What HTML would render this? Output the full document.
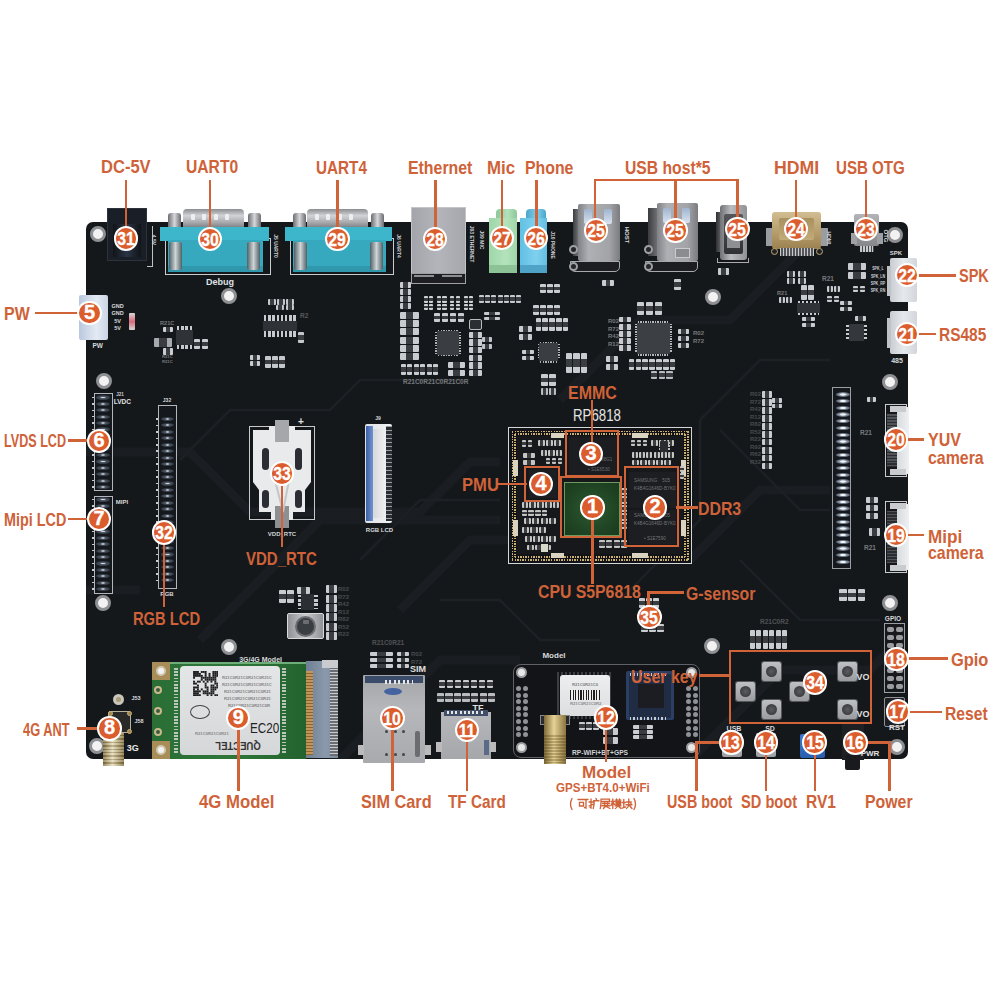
<!DOCTYPE html>
<html><head><meta charset="utf-8"><style>
html,body{margin:0;padding:0;background:#fff;width:1000px;height:1000px;overflow:hidden}
#root{position:relative;width:1000px;height:1000px;background:#fff;overflow:hidden}
#root div,#root span,#root svg{position:absolute}
.lb{font-family:"Liberation Sans",sans-serif;white-space:nowrap;line-height:1;letter-spacing:0}
.sm{font-family:"Liberation Sans",sans-serif;white-space:nowrap;line-height:1}
.ci{border:2px solid #fff;border-radius:50%;background:#db5c2d;box-sizing:border-box}
.ci span{position:absolute;left:50%;top:50%;transform:translate(-50%,-50%) scaleX(0.9);margin-top:1.6px;-webkit-text-stroke:0.35px #fff;color:#fff;font-family:"Liberation Sans",sans-serif;font-weight:bold;line-height:1;white-space:nowrap}
</style></head><body><div id="root">
<div style="left:86px;top:222px;width:822px;height:537px;border-radius:7px;background:#15181b"></div>
<svg style="position:absolute;left:0;top:0" width="1000" height="1000">
<defs><clipPath id="bc"><rect x="86" y="222" width="822" height="537" rx="7"/></clipPath></defs>
<g clip-path="url(#bc)" fill="none">
<g stroke="#1a1d21" stroke-width="9">
<path d="M86 452 L190 452 L250 512 L420 512 L470 462 L500 462"/>
<path d="M200 640 L320 520 L500 520"/>
<path d="M400 610 L470 540 L520 540"/>
<path d="M340 760 L440 660 L520 660"/>
<path d="M690 560 L760 490 L830 490"/>
<path d="M560 400 L640 320 L730 320 L800 250"/>
<path d="M690 760 L780 670 L870 670 L900 640"/>
<path d="M86 590 L140 590"/>
</g>
<g stroke="#1d2024" stroke-width="2.5">
<path d="M180 460 L230 410 L330 410 L360 380 L460 380"/>
<path d="M360 560 L420 500 L500 500"/>
<path d="M700 420 L760 360 L830 360"/>
<path d="M620 600 L700 520 L700 420"/>
<path d="M440 600 L500 600 L540 640 L600 640"/>
<path d="M740 560 L800 620 L880 620"/>
<path d="M720 430 L800 510 L830 510"/>
</g>

</g></svg>
<div style="left:90.0px;top:226.0px;width:16px;height:16px;border-radius:50%;border:3px solid #8e9094;background:#f2f2f2;box-sizing:border-box"></div>
<div style="left:220.5px;top:288.0px;width:16px;height:16px;border-radius:50%;border:3px solid #8e9094;background:#f2f2f2;box-sizing:border-box"></div>
<div style="left:96.2px;top:372.5px;width:16px;height:16px;border-radius:50%;border:3px solid #8e9094;background:#f2f2f2;box-sizing:border-box"></div>
<div style="left:94.5px;top:594.5px;width:16px;height:16px;border-radius:50%;border:3px solid #8e9094;background:#f2f2f2;box-sizing:border-box"></div>
<div style="left:89.0px;top:738.0px;width:16px;height:16px;border-radius:50%;border:3px solid #8e9094;background:#f2f2f2;box-sizing:border-box"></div>
<div style="left:704.6px;top:288.8px;width:16px;height:16px;border-radius:50%;border:3px solid #8e9094;background:#f2f2f2;box-sizing:border-box"></div>
<div style="left:882.0px;top:374.0px;width:16px;height:16px;border-radius:50%;border:3px solid #8e9094;background:#f2f2f2;box-sizing:border-box"></div>
<div style="left:887.0px;top:226.5px;width:16px;height:16px;border-radius:50%;border:3px solid #8e9094;background:#f2f2f2;box-sizing:border-box"></div>
<div style="left:703.5px;top:638.0px;width:16px;height:16px;border-radius:50%;border:3px solid #8e9094;background:#f2f2f2;box-sizing:border-box"></div>
<div style="left:882.0px;top:595.0px;width:16px;height:16px;border-radius:50%;border:3px solid #8e9094;background:#f2f2f2;box-sizing:border-box"></div>
<div style="left:889.0px;top:739.0px;width:16px;height:16px;border-radius:50%;border:3px solid #8e9094;background:#f2f2f2;box-sizing:border-box"></div>
<div style="left:221.4px;top:639.0px;width:16px;height:16px;border-radius:50%;border:3px solid #8e9094;background:#f2f2f2;box-sizing:border-box"></div>
<div style="left:107.0px;top:208.0px;width:40.0px;height:53.0px;background:#1a1f27;border:1px solid #2c333c;box-sizing:border-box;"></div>
<div style="left:113.0px;top:224.0px;width:28.0px;height:33.0px;background:linear-gradient(90deg,#111418,#2a3444 50%,#111418);"></div>
<div style="left:147px;top:226px;width:5px;height:40px;border-right:1px solid #bfc3c7;border-bottom:1px solid #bfc3c7"></div>
<span class="sm" style="left:153px;top:240px;font-size:5px;color:#cfd2d6;font-weight:bold;transform:translate(-50%,-50%) rotate(90deg) scaleX(1)">4.5V</span>
<div style="left:183.0px;top:209.0px;width:61.0px;height:19.0px;background:linear-gradient(#8c8d91,#d2d3d6 35%,#a9aaae 70%,#7b7c80);border-radius:4px 4px 0 0;"></div>
<div style="left:191.0px;top:214.0px;width:4.0px;height:6.0px;background:#eceef0;border-radius:1px;"></div>
<div style="left:202.2px;top:214.0px;width:4.0px;height:6.0px;background:#eceef0;border-radius:1px;"></div>
<div style="left:213.5px;top:214.0px;width:4.0px;height:6.0px;background:#eceef0;border-radius:1px;"></div>
<div style="left:224.8px;top:214.0px;width:4.0px;height:6.0px;background:#eceef0;border-radius:1px;"></div>
<div style="left:168.0px;top:213.0px;width:13.0px;height:15.0px;background:linear-gradient(90deg,#6a6c70,#d5d6d9 50%,#6a6c70);border-radius:3px 3px 0 0;"></div>
<div style="left:248.0px;top:213.0px;width:13.0px;height:15.0px;background:linear-gradient(90deg,#6a6c70,#d5d6d9 50%,#6a6c70);border-radius:3px 3px 0 0;"></div>
<div style="left:165px;top:238px;width:106px;height:37px;border:1px solid #c8cccf;box-sizing:border-box"></div>
<div style="left:160.0px;top:227.0px;width:109.0px;height:14.0px;background:#3db5cb;"></div>
<div style="left:168.0px;top:240.0px;width:95.0px;height:32.0px;background:#37a9bf;"></div>
<div style="left:168.0px;top:266.0px;width:95.0px;height:6.0px;background:#2f98ad;"></div>
<div style="left:169.0px;top:242.0px;width:13.0px;height:28.0px;background:linear-gradient(90deg,#4e6066,#cfd4d6 50%,#4e6066);border-radius:2px;"></div>
<div style="left:247.0px;top:242.0px;width:13.0px;height:28.0px;background:linear-gradient(90deg,#4e6066,#cfd4d6 50%,#4e6066);border-radius:2px;"></div>
<span class="sm" style="left:275px;top:246px;font-size:5px;color:#cfd2d6;font-weight:bold;transform:translate(-50%,-50%) rotate(90deg) scaleX(1)">J5 UART0</span>
<div style="left:307.0px;top:209.0px;width:61.0px;height:19.0px;background:linear-gradient(#8c8d91,#d2d3d6 35%,#a9aaae 70%,#7b7c80);border-radius:4px 4px 0 0;"></div>
<div style="left:315.0px;top:214.0px;width:4.0px;height:6.0px;background:#eceef0;border-radius:1px;"></div>
<div style="left:326.2px;top:214.0px;width:4.0px;height:6.0px;background:#eceef0;border-radius:1px;"></div>
<div style="left:337.5px;top:214.0px;width:4.0px;height:6.0px;background:#eceef0;border-radius:1px;"></div>
<div style="left:348.8px;top:214.0px;width:4.0px;height:6.0px;background:#eceef0;border-radius:1px;"></div>
<div style="left:293.0px;top:213.0px;width:13.0px;height:15.0px;background:linear-gradient(90deg,#6a6c70,#d5d6d9 50%,#6a6c70);border-radius:3px 3px 0 0;"></div>
<div style="left:371.0px;top:213.0px;width:13.0px;height:15.0px;background:linear-gradient(90deg,#6a6c70,#d5d6d9 50%,#6a6c70);border-radius:3px 3px 0 0;"></div>
<div style="left:290px;top:238px;width:104px;height:37px;border:1px solid #c8cccf;box-sizing:border-box"></div>
<div style="left:285.0px;top:227.0px;width:107.0px;height:14.0px;background:#3db5cb;"></div>
<div style="left:293.0px;top:240.0px;width:93.0px;height:32.0px;background:#37a9bf;"></div>
<div style="left:293.0px;top:266.0px;width:93.0px;height:6.0px;background:#2f98ad;"></div>
<div style="left:294.0px;top:242.0px;width:13.0px;height:28.0px;background:linear-gradient(90deg,#4e6066,#cfd4d6 50%,#4e6066);border-radius:2px;"></div>
<div style="left:370.0px;top:242.0px;width:13.0px;height:28.0px;background:linear-gradient(90deg,#4e6066,#cfd4d6 50%,#4e6066);border-radius:2px;"></div>
<span class="sm" style="left:398px;top:246px;font-size:5px;color:#cfd2d6;font-weight:bold;transform:translate(-50%,-50%) rotate(90deg) scaleX(1)">J6 UART4</span>
<span class="sm" style="left:220px;top:282px;font-size:9.5px;color:#dfe3e6;font-weight:bold;transform:translate(-50%,-50%) rotate(0deg) scaleX(0.95)">Debug</span>
<div style="left:411.2px;top:207.0px;width:54.4px;height:67.0px;background:linear-gradient(90deg,#a3a5aa,#b3b5ba 50%,#a5a7ac);border:1px solid #c3c5c8;box-sizing:border-box;"></div>
<div style="left:411.2px;top:273.0px;width:54.4px;height:10.5px;background:#1d1f23;border:1px solid #9fa1a5;box-sizing:border-box;"></div>
<div style="left:414.0px;top:274.5px;width:20.0px;height:2.5px;background:#8d8f93;"></div>
<div style="left:442.0px;top:274.5px;width:20.0px;height:2.5px;background:#8d8f93;"></div>
<span class="sm" style="left:471px;top:244px;font-size:5px;color:#cfd2d6;font-weight:bold;transform:translate(-50%,-50%) rotate(90deg) scaleX(1)">J03 ETHERNET</span>
<div style="left:496.0px;top:208.6px;width:20.5px;height:10.4px;background:linear-gradient(90deg,#8cc79a,#b2e2bb 55%,#8cc79a);border-radius:4px 4px 0 0;"></div>
<div style="left:488.8px;top:218.2px;width:28.0px;height:55.2px;background:linear-gradient(90deg,#9fd6a9,#b3e3bb 60%,#a0d5a9);"></div>
<div style="left:488.8px;top:265.0px;width:28.0px;height:8.4px;background:#8dc196;"></div>
<div style="left:526.4px;top:208.6px;width:20.1px;height:10.4px;background:linear-gradient(90deg,#4aa6cc,#7fcdea 55%,#4aa6cc);border-radius:4px 4px 0 0;"></div>
<div style="left:520.0px;top:218.2px;width:27.2px;height:55.2px;background:linear-gradient(90deg,#62c0e4,#7fd0ee 60%,#62bfe2);"></div>
<div style="left:520.0px;top:265.0px;width:27.2px;height:8.4px;background:#4fa3c6;"></div>
<span class="sm" style="left:481px;top:240px;font-size:5px;color:#cfd2d6;font-weight:bold;transform:translate(-50%,-50%) rotate(90deg) scaleX(1)">J09 MIC</span>
<span class="sm" style="left:552px;top:245px;font-size:5px;color:#cfd2d6;font-weight:bold;transform:translate(-50%,-50%) rotate(90deg) scaleX(1)">J10 PHONE</span>
<div style="left:573.0px;top:209.0px;width:5.0px;height:47.0px;background:linear-gradient(90deg,#3a3c40,#6d6f73);"></div>
<div style="left:578.0px;top:204.0px;width:42.0px;height:57.0px;background:linear-gradient(90deg,#7f8186,#aeb0b4 25%,#a1a3a7 75%,#7a7c80);border-radius:2px;"></div>
<div style="left:584.0px;top:209.0px;width:8.0px;height:15.0px;background:linear-gradient(#a0b4d0,#d9e2ee);border-radius:2px;"></div>
<div style="left:604.0px;top:209.0px;width:8.0px;height:15.0px;background:linear-gradient(#a0b4d0,#d9e2ee);border-radius:2px;"></div>
<div style="left:570.0px;top:261.0px;width:50.0px;height:11.0px;background:#1c1e22;border:1.5px solid #a6a8ab;box-sizing:border-box;border-radius:0 0 5px 5px;"></div>
<div style="left:568.5px;top:244.5px;width:9px;height:9px;border-radius:50%;border:2px solid #9ea0a3;background:#25272b;box-sizing:border-box"></div>
<div style="left:568.5px;top:261.5px;width:9px;height:9px;border-radius:50%;border:2px solid #9ea0a3;background:#25272b;box-sizing:border-box"></div>
<div style="left:648.0px;top:208.0px;width:9.0px;height:48.0px;background:linear-gradient(90deg,#3a3c40,#6d6f73);"></div>
<div style="left:657.0px;top:203.0px;width:41.0px;height:58.0px;background:linear-gradient(90deg,#7f8186,#aeb0b4 25%,#a1a3a7 75%,#7a7c80);border-radius:2px;"></div>
<div style="left:663.0px;top:208.0px;width:8.0px;height:15.0px;background:linear-gradient(#a0b4d0,#d9e2ee);border-radius:2px;"></div>
<div style="left:682.0px;top:208.0px;width:8.0px;height:15.0px;background:linear-gradient(#a0b4d0,#d9e2ee);border-radius:2px;"></div>
<div style="left:645.0px;top:261.0px;width:53.0px;height:11.0px;background:#1c1e22;border:1.5px solid #a6a8ab;box-sizing:border-box;border-radius:0 0 5px 5px;"></div>
<div style="left:643.5px;top:244.5px;width:9px;height:9px;border-radius:50%;border:2px solid #9ea0a3;background:#25272b;box-sizing:border-box"></div>
<div style="left:643.5px;top:261.5px;width:9px;height:9px;border-radius:50%;border:2px solid #9ea0a3;background:#25272b;box-sizing:border-box"></div>
<div style="left:675.0px;top:248.0px;width:15.0px;height:10.0px;background:#8a8c90;border:1px solid #c9cbcf;box-sizing:border-box;"></div>
<div style="left:716.0px;top:212.0px;width:6.0px;height:40.0px;background:linear-gradient(90deg,#2e3034,#6a6c70);"></div>
<div style="left:720.0px;top:205.0px;width:27.0px;height:55.0px;background:linear-gradient(90deg,#6f7175,#b9bbbf 40%,#8f9195);border-radius:3px;"></div>
<div style="left:724.0px;top:214.0px;width:19.0px;height:40.0px;background:linear-gradient(#55575b,#2f3135);border-radius:2px;"></div>
<div style="left:727.0px;top:232.0px;width:13.0px;height:16.0px;background:#8d8f93;"></div>
<div style="left:717px;top:258px;width:30px;height:4px;border:1px solid #a9abae;border-top:none"></div>
<span class="sm" style="left:627px;top:235px;font-size:6px;color:#d8dadd;font-weight:bold;transform:translate(-50%,-50%) rotate(90deg) scaleX(1)">HOST</span>
<div style="left:766.0px;top:228.0px;width:7.0px;height:18.0px;background:#9a9c9f;"></div>
<div style="left:821.0px;top:228.0px;width:7.0px;height:18.0px;background:#9a9c9f;"></div>
<div style="left:772.0px;top:212.0px;width:49.0px;height:37.0px;background:linear-gradient(#d1bd92,#b39a68 60%,#9b8150);border-radius:3px;"></div>
<div style="left:779.0px;top:218.0px;width:35.0px;height:22.0px;background:linear-gradient(#a8915f,#c2ab7a);border-radius:2px;"></div>
<div style="left:780.0px;top:248.0px;width:34.0px;height:8.0px;background:repeating-linear-gradient(90deg,#c8cacc 0 1.5px,#55575b 1.5px 3px);"></div>
<div style="left:770.5px;top:247.5px;width:7px;height:7px;border-radius:50%;border:1.5px solid #bfa97a;background:#222;box-sizing:border-box"></div>
<div style="left:815.5px;top:247.5px;width:7px;height:7px;border-radius:50%;border:1.5px solid #bfa97a;background:#222;box-sizing:border-box"></div>
<span class="sm" style="left:828px;top:238px;font-size:5px;color:#cfd2d6;font-weight:bold;transform:translate(-50%,-50%) rotate(90deg) scaleX(1)">HDMI</span>
<div style="left:854.0px;top:214.0px;width:25.0px;height:32.0px;background:linear-gradient(#b2b4b8,#85878b);border-radius:2px;"></div>
<div style="left:851.0px;top:233.0px;width:6.0px;height:11.0px;background:#9ea0a4;"></div>
<div style="left:877.0px;top:233.0px;width:6.0px;height:11.0px;background:#9ea0a4;"></div>
<div style="left:860.0px;top:246.0px;width:14.0px;height:6.0px;background:repeating-linear-gradient(90deg,#c8cacc 0 1.5px,#45474b 1.5px 3px);"></div>
<span class="sm" style="left:886px;top:236px;font-size:6px;color:#d8dadd;font-weight:bold;transform:translate(-50%,-50%) rotate(90deg) scaleX(1)">OTG</span>
<div style="left:890.0px;top:258.0px;width:27.0px;height:44.0px;background:linear-gradient(90deg,#c9cdd2,#e6e9ec 50%,#d2d6da);border-radius:2px;"></div>
<div style="left:887.0px;top:266.0px;width:4.0px;height:30.0px;background:#bfc3c7;"></div>
<div style="left:890.0px;top:311.0px;width:27.0px;height:43.0px;background:linear-gradient(90deg,#c9cdd2,#e6e9ec 50%,#d2d6da);border-radius:2px;"></div>
<div style="left:887.0px;top:318.0px;width:4.0px;height:30.0px;background:#bfc3c7;"></div>
<span class="sm" style="left:896px;top:253px;font-size:6px;color:#d8dadd;font-weight:bold;transform:translate(-50%,-50%) rotate(0deg) scaleX(1.0)">SPK</span>
<span class="sm" style="left:897px;top:360px;font-size:7px;color:#d8dadd;font-weight:bold;transform:translate(-50%,-50%) rotate(0deg) scaleX(1.0)">485</span>
<span class="sm" style="left:878px;top:269px;font-size:4.5px;color:#cfd2d6;font-weight:bold;transform:translate(-50%,-50%) rotate(0deg) scaleX(0.8)">SPK_L</span>
<span class="sm" style="left:878px;top:277px;font-size:4.5px;color:#cfd2d6;font-weight:bold;transform:translate(-50%,-50%) rotate(0deg) scaleX(0.8)">SPK_LN</span>
<span class="sm" style="left:878px;top:284px;font-size:4.5px;color:#cfd2d6;font-weight:bold;transform:translate(-50%,-50%) rotate(0deg) scaleX(0.8)">SPK_RP</span>
<span class="sm" style="left:878px;top:291px;font-size:4.5px;color:#cfd2d6;font-weight:bold;transform:translate(-50%,-50%) rotate(0deg) scaleX(0.8)">SPK_RN</span>
<div style="left:884.8px;top:404.0px;width:22.2px;height:72.5px;background:#15171b;border:1px solid #c8cacd;box-sizing:border-box;"></div>
<div style="left:887.0px;top:414.0px;width:10.0px;height:52.5px;background:repeating-linear-gradient(#505357 0 1.5px,#2a2c30 1.5px 3px);"></div>
<div style="left:897.4px;top:407.0px;width:11.6px;height:66.5px;background:linear-gradient(90deg,#d8dbde,#eef0f2);"></div>
<div style="left:890.0px;top:406.0px;width:16.0px;height:6.0px;background:#c9cbce;"></div>
<div style="left:890.0px;top:468.5px;width:16.0px;height:6.0px;background:#c9cbce;"></div>
<div style="left:884.8px;top:501.0px;width:22.2px;height:71.5px;background:#15171b;border:1px solid #c8cacd;box-sizing:border-box;"></div>
<div style="left:887.0px;top:511.0px;width:10.0px;height:51.5px;background:repeating-linear-gradient(#505357 0 1.5px,#2a2c30 1.5px 3px);"></div>
<div style="left:897.4px;top:504.0px;width:11.6px;height:65.5px;background:linear-gradient(90deg,#d8dbde,#eef0f2);"></div>
<div style="left:890.0px;top:503.0px;width:16.0px;height:6.0px;background:#c9cbce;"></div>
<div style="left:890.0px;top:564.5px;width:16.0px;height:6.0px;background:#c9cbce;"></div>
<div style="left:883.7px;top:623.0px;width:21.0px;height:69.5px;background:#17191d;border:1px solid #9a9da1;box-sizing:border-box;"></div>
<div style="left:886.5px;top:627.0px;width:7.5px;height:4.5px;background:#9a9ca0;border-radius:2px;"></div>
<div style="left:895.5px;top:627.0px;width:7.5px;height:4.5px;background:#9a9ca0;border-radius:2px;"></div>
<div style="left:886.5px;top:635.2px;width:7.5px;height:4.5px;background:#9a9ca0;border-radius:2px;"></div>
<div style="left:895.5px;top:635.2px;width:7.5px;height:4.5px;background:#9a9ca0;border-radius:2px;"></div>
<div style="left:886.5px;top:643.4px;width:7.5px;height:4.5px;background:#9a9ca0;border-radius:2px;"></div>
<div style="left:895.5px;top:643.4px;width:7.5px;height:4.5px;background:#9a9ca0;border-radius:2px;"></div>
<div style="left:886.5px;top:651.6px;width:7.5px;height:4.5px;background:#9a9ca0;border-radius:2px;"></div>
<div style="left:895.5px;top:651.6px;width:7.5px;height:4.5px;background:#9a9ca0;border-radius:2px;"></div>
<div style="left:886.5px;top:659.8px;width:7.5px;height:4.5px;background:#9a9ca0;border-radius:2px;"></div>
<div style="left:895.5px;top:659.8px;width:7.5px;height:4.5px;background:#9a9ca0;border-radius:2px;"></div>
<div style="left:886.5px;top:668.0px;width:7.5px;height:4.5px;background:#9a9ca0;border-radius:2px;"></div>
<div style="left:895.5px;top:668.0px;width:7.5px;height:4.5px;background:#9a9ca0;border-radius:2px;"></div>
<div style="left:886.5px;top:676.2px;width:7.5px;height:4.5px;background:#9a9ca0;border-radius:2px;"></div>
<div style="left:895.5px;top:676.2px;width:7.5px;height:4.5px;background:#9a9ca0;border-radius:2px;"></div>
<div style="left:886.5px;top:684.4px;width:7.5px;height:4.5px;background:#9a9ca0;border-radius:2px;"></div>
<div style="left:895.5px;top:684.4px;width:7.5px;height:4.5px;background:#9a9ca0;border-radius:2px;"></div>
<span class="sm" style="left:893px;top:618.7px;font-size:6.5px;color:#d8dadd;font-weight:bold;transform:translate(-50%,-50%) rotate(0deg) scaleX(1.0)">GPIO</span>
<div style="left:884.0px;top:697.0px;width:21.0px;height:30.0px;background:#1d1f23;border:1px solid #8c8f93;box-sizing:border-box;border-radius:2px;"></div>
<span class="sm" style="left:897px;top:728px;font-size:8px;color:#e0e0e0;font-weight:bold;transform:translate(-50%,-50%) rotate(0deg) scaleX(1.0)">RST</span>
<div style="left:79.0px;top:295.0px;width:29.0px;height:45.0px;background:linear-gradient(90deg,#b9c8de,#e4eaf3 60%,#c9d4e4);border-radius:2px;"></div>
<span class="sm" style="left:117.5px;top:306.5px;font-size:5.5px;color:#d8dadd;font-weight:bold;transform:translate(-50%,-50%) rotate(0deg) scaleX(1.0)">GND</span>
<span class="sm" style="left:117.5px;top:314px;font-size:5.5px;color:#d8dadd;font-weight:bold;transform:translate(-50%,-50%) rotate(0deg) scaleX(1.0)">GND</span>
<span class="sm" style="left:117.5px;top:321.5px;font-size:5.5px;color:#d8dadd;font-weight:bold;transform:translate(-50%,-50%) rotate(0deg) scaleX(1.0)">5V</span>
<span class="sm" style="left:117.5px;top:329px;font-size:5.5px;color:#d8dadd;font-weight:bold;transform:translate(-50%,-50%) rotate(0deg) scaleX(1.0)">5V</span>
<div style="left:129.0px;top:313.0px;width:6.4px;height:17.0px;background:linear-gradient(#d8d8d8,#d86a7a 50%,#d8d8d8);border-radius:1px;"></div>
<span class="sm" style="left:97.7px;top:346px;font-size:6.5px;color:#d8dadd;font-weight:bold;transform:translate(-50%,-50%) rotate(0deg) scaleX(1.0)">PW</span>
<div style="left:93.5px;top:393.0px;width:19.5px;height:98.0px;background:#15181c;border:1px solid #b3b6ba;box-sizing:border-box;"></div>
<div style="left:96.0px;top:395.4px;width:14.0px;height:4.2px;border-radius:50%;background:radial-gradient(ellipse at 50% 50%,#d8dadc 0 14%,#4f5967 28%,#283039 75%)"></div>
<div style="left:92.0px;top:396.7px;width:1.6px;height:1.6px;background:#c8cacd;"></div>
<div style="left:96.0px;top:401.8px;width:14.0px;height:4.2px;border-radius:50%;background:radial-gradient(ellipse at 50% 50%,#d8dadc 0 14%,#4f5967 28%,#283039 75%)"></div>
<div style="left:92.0px;top:403.1px;width:1.6px;height:1.6px;background:#c8cacd;"></div>
<div style="left:96.0px;top:408.2px;width:14.0px;height:4.2px;border-radius:50%;background:radial-gradient(ellipse at 50% 50%,#d8dadc 0 14%,#4f5967 28%,#283039 75%)"></div>
<div style="left:92.0px;top:409.5px;width:1.6px;height:1.6px;background:#c8cacd;"></div>
<div style="left:96.0px;top:414.6px;width:14.0px;height:4.2px;border-radius:50%;background:radial-gradient(ellipse at 50% 50%,#d8dadc 0 14%,#4f5967 28%,#283039 75%)"></div>
<div style="left:92.0px;top:415.9px;width:1.6px;height:1.6px;background:#c8cacd;"></div>
<div style="left:96.0px;top:421.0px;width:14.0px;height:4.2px;border-radius:50%;background:radial-gradient(ellipse at 50% 50%,#d8dadc 0 14%,#4f5967 28%,#283039 75%)"></div>
<div style="left:92.0px;top:422.3px;width:1.6px;height:1.6px;background:#c8cacd;"></div>
<div style="left:96.0px;top:427.4px;width:14.0px;height:4.2px;border-radius:50%;background:radial-gradient(ellipse at 50% 50%,#d8dadc 0 14%,#4f5967 28%,#283039 75%)"></div>
<div style="left:92.0px;top:428.7px;width:1.6px;height:1.6px;background:#c8cacd;"></div>
<div style="left:96.0px;top:433.8px;width:14.0px;height:4.2px;border-radius:50%;background:radial-gradient(ellipse at 50% 50%,#d8dadc 0 14%,#4f5967 28%,#283039 75%)"></div>
<div style="left:92.0px;top:435.1px;width:1.6px;height:1.6px;background:#c8cacd;"></div>
<div style="left:96.0px;top:440.2px;width:14.0px;height:4.2px;border-radius:50%;background:radial-gradient(ellipse at 50% 50%,#d8dadc 0 14%,#4f5967 28%,#283039 75%)"></div>
<div style="left:92.0px;top:441.5px;width:1.6px;height:1.6px;background:#c8cacd;"></div>
<div style="left:96.0px;top:446.6px;width:14.0px;height:4.2px;border-radius:50%;background:radial-gradient(ellipse at 50% 50%,#d8dadc 0 14%,#4f5967 28%,#283039 75%)"></div>
<div style="left:92.0px;top:447.9px;width:1.6px;height:1.6px;background:#c8cacd;"></div>
<div style="left:96.0px;top:453.0px;width:14.0px;height:4.2px;border-radius:50%;background:radial-gradient(ellipse at 50% 50%,#d8dadc 0 14%,#4f5967 28%,#283039 75%)"></div>
<div style="left:92.0px;top:454.3px;width:1.6px;height:1.6px;background:#c8cacd;"></div>
<div style="left:96.0px;top:459.4px;width:14.0px;height:4.2px;border-radius:50%;background:radial-gradient(ellipse at 50% 50%,#d8dadc 0 14%,#4f5967 28%,#283039 75%)"></div>
<div style="left:92.0px;top:460.7px;width:1.6px;height:1.6px;background:#c8cacd;"></div>
<div style="left:96.0px;top:465.8px;width:14.0px;height:4.2px;border-radius:50%;background:radial-gradient(ellipse at 50% 50%,#d8dadc 0 14%,#4f5967 28%,#283039 75%)"></div>
<div style="left:92.0px;top:467.1px;width:1.6px;height:1.6px;background:#c8cacd;"></div>
<div style="left:96.0px;top:472.2px;width:14.0px;height:4.2px;border-radius:50%;background:radial-gradient(ellipse at 50% 50%,#d8dadc 0 14%,#4f5967 28%,#283039 75%)"></div>
<div style="left:92.0px;top:473.5px;width:1.6px;height:1.6px;background:#c8cacd;"></div>
<div style="left:96.0px;top:478.6px;width:14.0px;height:4.2px;border-radius:50%;background:radial-gradient(ellipse at 50% 50%,#d8dadc 0 14%,#4f5967 28%,#283039 75%)"></div>
<div style="left:92.0px;top:479.9px;width:1.6px;height:1.6px;background:#c8cacd;"></div>
<div style="left:96.0px;top:485.0px;width:14.0px;height:4.2px;border-radius:50%;background:radial-gradient(ellipse at 50% 50%,#d8dadc 0 14%,#4f5967 28%,#283039 75%)"></div>
<div style="left:92.0px;top:486.3px;width:1.6px;height:1.6px;background:#c8cacd;"></div>
<div style="left:93.5px;top:495.6px;width:19.5px;height:98.4px;background:#15181c;border:1px solid #b3b6ba;box-sizing:border-box;"></div>
<div style="left:96.0px;top:497.4px;width:14.0px;height:4.2px;border-radius:50%;background:radial-gradient(ellipse at 50% 50%,#d8dadc 0 14%,#4f5967 28%,#283039 75%)"></div>
<div style="left:92.0px;top:498.7px;width:1.6px;height:1.6px;background:#c8cacd;"></div>
<div style="left:96.0px;top:503.8px;width:14.0px;height:4.2px;border-radius:50%;background:radial-gradient(ellipse at 50% 50%,#d8dadc 0 14%,#4f5967 28%,#283039 75%)"></div>
<div style="left:92.0px;top:505.1px;width:1.6px;height:1.6px;background:#c8cacd;"></div>
<div style="left:96.0px;top:510.2px;width:14.0px;height:4.2px;border-radius:50%;background:radial-gradient(ellipse at 50% 50%,#d8dadc 0 14%,#4f5967 28%,#283039 75%)"></div>
<div style="left:92.0px;top:511.5px;width:1.6px;height:1.6px;background:#c8cacd;"></div>
<div style="left:96.0px;top:516.6px;width:14.0px;height:4.2px;border-radius:50%;background:radial-gradient(ellipse at 50% 50%,#d8dadc 0 14%,#4f5967 28%,#283039 75%)"></div>
<div style="left:92.0px;top:517.9px;width:1.6px;height:1.6px;background:#c8cacd;"></div>
<div style="left:96.0px;top:523.0px;width:14.0px;height:4.2px;border-radius:50%;background:radial-gradient(ellipse at 50% 50%,#d8dadc 0 14%,#4f5967 28%,#283039 75%)"></div>
<div style="left:92.0px;top:524.3px;width:1.6px;height:1.6px;background:#c8cacd;"></div>
<div style="left:96.0px;top:529.4px;width:14.0px;height:4.2px;border-radius:50%;background:radial-gradient(ellipse at 50% 50%,#d8dadc 0 14%,#4f5967 28%,#283039 75%)"></div>
<div style="left:92.0px;top:530.7px;width:1.6px;height:1.6px;background:#c8cacd;"></div>
<div style="left:96.0px;top:535.8px;width:14.0px;height:4.2px;border-radius:50%;background:radial-gradient(ellipse at 50% 50%,#d8dadc 0 14%,#4f5967 28%,#283039 75%)"></div>
<div style="left:92.0px;top:537.1px;width:1.6px;height:1.6px;background:#c8cacd;"></div>
<div style="left:96.0px;top:542.2px;width:14.0px;height:4.2px;border-radius:50%;background:radial-gradient(ellipse at 50% 50%,#d8dadc 0 14%,#4f5967 28%,#283039 75%)"></div>
<div style="left:92.0px;top:543.5px;width:1.6px;height:1.6px;background:#c8cacd;"></div>
<div style="left:96.0px;top:548.6px;width:14.0px;height:4.2px;border-radius:50%;background:radial-gradient(ellipse at 50% 50%,#d8dadc 0 14%,#4f5967 28%,#283039 75%)"></div>
<div style="left:92.0px;top:549.9px;width:1.6px;height:1.6px;background:#c8cacd;"></div>
<div style="left:96.0px;top:555.0px;width:14.0px;height:4.2px;border-radius:50%;background:radial-gradient(ellipse at 50% 50%,#d8dadc 0 14%,#4f5967 28%,#283039 75%)"></div>
<div style="left:92.0px;top:556.3px;width:1.6px;height:1.6px;background:#c8cacd;"></div>
<div style="left:96.0px;top:561.4px;width:14.0px;height:4.2px;border-radius:50%;background:radial-gradient(ellipse at 50% 50%,#d8dadc 0 14%,#4f5967 28%,#283039 75%)"></div>
<div style="left:92.0px;top:562.7px;width:1.6px;height:1.6px;background:#c8cacd;"></div>
<div style="left:96.0px;top:567.8px;width:14.0px;height:4.2px;border-radius:50%;background:radial-gradient(ellipse at 50% 50%,#d8dadc 0 14%,#4f5967 28%,#283039 75%)"></div>
<div style="left:92.0px;top:569.1px;width:1.6px;height:1.6px;background:#c8cacd;"></div>
<div style="left:96.0px;top:574.2px;width:14.0px;height:4.2px;border-radius:50%;background:radial-gradient(ellipse at 50% 50%,#d8dadc 0 14%,#4f5967 28%,#283039 75%)"></div>
<div style="left:92.0px;top:575.5px;width:1.6px;height:1.6px;background:#c8cacd;"></div>
<div style="left:96.0px;top:580.6px;width:14.0px;height:4.2px;border-radius:50%;background:radial-gradient(ellipse at 50% 50%,#d8dadc 0 14%,#4f5967 28%,#283039 75%)"></div>
<div style="left:92.0px;top:581.9px;width:1.6px;height:1.6px;background:#c8cacd;"></div>
<div style="left:96.0px;top:587.0px;width:14.0px;height:4.2px;border-radius:50%;background:radial-gradient(ellipse at 50% 50%,#d8dadc 0 14%,#4f5967 28%,#283039 75%)"></div>
<div style="left:92.0px;top:588.3px;width:1.6px;height:1.6px;background:#c8cacd;"></div>
<span class="sm" style="left:122.3px;top:401.8px;font-size:6.5px;color:#e0e2e4;font-weight:bold;transform:translate(-50%,-50%) rotate(0deg) scaleX(1.0)">LVDC</span>
<span class="sm" style="left:120px;top:395px;font-size:4.5px;color:#d0d2d5;font-weight:bold;transform:translate(-50%,-50%) rotate(0deg) scaleX(1.0)">J21</span>
<span class="sm" style="left:122px;top:502px;font-size:6px;color:#d8dadd;font-weight:bold;transform:translate(-50%,-50%) rotate(0deg) scaleX(1.0)">MIPI</span>
<div style="left:157.5px;top:405.4px;width:19.5px;height:183.6px;background:#15181c;border:1px solid #b3b6ba;box-sizing:border-box;"></div>
<div style="left:160.5px;top:416.9px;width:13.5px;height:4.2px;border-radius:50%;background:radial-gradient(ellipse at 50% 50%,#d8dadc 0 14%,#4f5967 28%,#283039 75%)"></div>
<div style="left:156.0px;top:418.2px;width:1.6px;height:1.6px;background:#c8cacd;"></div>
<div style="left:160.5px;top:423.3px;width:13.5px;height:4.2px;border-radius:50%;background:radial-gradient(ellipse at 50% 50%,#d8dadc 0 14%,#4f5967 28%,#283039 75%)"></div>
<div style="left:156.0px;top:424.6px;width:1.6px;height:1.6px;background:#c8cacd;"></div>
<div style="left:160.5px;top:429.8px;width:13.5px;height:4.2px;border-radius:50%;background:radial-gradient(ellipse at 50% 50%,#d8dadc 0 14%,#4f5967 28%,#283039 75%)"></div>
<div style="left:156.0px;top:431.1px;width:1.6px;height:1.6px;background:#c8cacd;"></div>
<div style="left:160.5px;top:436.2px;width:13.5px;height:4.2px;border-radius:50%;background:radial-gradient(ellipse at 50% 50%,#d8dadc 0 14%,#4f5967 28%,#283039 75%)"></div>
<div style="left:156.0px;top:437.6px;width:1.6px;height:1.6px;background:#c8cacd;"></div>
<div style="left:160.5px;top:442.7px;width:13.5px;height:4.2px;border-radius:50%;background:radial-gradient(ellipse at 50% 50%,#d8dadc 0 14%,#4f5967 28%,#283039 75%)"></div>
<div style="left:156.0px;top:444.0px;width:1.6px;height:1.6px;background:#c8cacd;"></div>
<div style="left:160.5px;top:449.1px;width:13.5px;height:4.2px;border-radius:50%;background:radial-gradient(ellipse at 50% 50%,#d8dadc 0 14%,#4f5967 28%,#283039 75%)"></div>
<div style="left:156.0px;top:450.4px;width:1.6px;height:1.6px;background:#c8cacd;"></div>
<div style="left:160.5px;top:455.6px;width:13.5px;height:4.2px;border-radius:50%;background:radial-gradient(ellipse at 50% 50%,#d8dadc 0 14%,#4f5967 28%,#283039 75%)"></div>
<div style="left:156.0px;top:456.9px;width:1.6px;height:1.6px;background:#c8cacd;"></div>
<div style="left:160.5px;top:462.0px;width:13.5px;height:4.2px;border-radius:50%;background:radial-gradient(ellipse at 50% 50%,#d8dadc 0 14%,#4f5967 28%,#283039 75%)"></div>
<div style="left:156.0px;top:463.3px;width:1.6px;height:1.6px;background:#c8cacd;"></div>
<div style="left:160.5px;top:468.5px;width:13.5px;height:4.2px;border-radius:50%;background:radial-gradient(ellipse at 50% 50%,#d8dadc 0 14%,#4f5967 28%,#283039 75%)"></div>
<div style="left:156.0px;top:469.8px;width:1.6px;height:1.6px;background:#c8cacd;"></div>
<div style="left:160.5px;top:474.9px;width:13.5px;height:4.2px;border-radius:50%;background:radial-gradient(ellipse at 50% 50%,#d8dadc 0 14%,#4f5967 28%,#283039 75%)"></div>
<div style="left:156.0px;top:476.2px;width:1.6px;height:1.6px;background:#c8cacd;"></div>
<div style="left:160.5px;top:481.4px;width:13.5px;height:4.2px;border-radius:50%;background:radial-gradient(ellipse at 50% 50%,#d8dadc 0 14%,#4f5967 28%,#283039 75%)"></div>
<div style="left:156.0px;top:482.7px;width:1.6px;height:1.6px;background:#c8cacd;"></div>
<div style="left:160.5px;top:487.8px;width:13.5px;height:4.2px;border-radius:50%;background:radial-gradient(ellipse at 50% 50%,#d8dadc 0 14%,#4f5967 28%,#283039 75%)"></div>
<div style="left:156.0px;top:489.1px;width:1.6px;height:1.6px;background:#c8cacd;"></div>
<div style="left:160.5px;top:494.3px;width:13.5px;height:4.2px;border-radius:50%;background:radial-gradient(ellipse at 50% 50%,#d8dadc 0 14%,#4f5967 28%,#283039 75%)"></div>
<div style="left:156.0px;top:495.6px;width:1.6px;height:1.6px;background:#c8cacd;"></div>
<div style="left:160.5px;top:500.8px;width:13.5px;height:4.2px;border-radius:50%;background:radial-gradient(ellipse at 50% 50%,#d8dadc 0 14%,#4f5967 28%,#283039 75%)"></div>
<div style="left:156.0px;top:502.1px;width:1.6px;height:1.6px;background:#c8cacd;"></div>
<div style="left:160.5px;top:507.2px;width:13.5px;height:4.2px;border-radius:50%;background:radial-gradient(ellipse at 50% 50%,#d8dadc 0 14%,#4f5967 28%,#283039 75%)"></div>
<div style="left:156.0px;top:508.5px;width:1.6px;height:1.6px;background:#c8cacd;"></div>
<div style="left:160.5px;top:513.6px;width:13.5px;height:4.2px;border-radius:50%;background:radial-gradient(ellipse at 50% 50%,#d8dadc 0 14%,#4f5967 28%,#283039 75%)"></div>
<div style="left:156.0px;top:515.0px;width:1.6px;height:1.6px;background:#c8cacd;"></div>
<div style="left:160.5px;top:520.1px;width:13.5px;height:4.2px;border-radius:50%;background:radial-gradient(ellipse at 50% 50%,#d8dadc 0 14%,#4f5967 28%,#283039 75%)"></div>
<div style="left:156.0px;top:521.4px;width:1.6px;height:1.6px;background:#c8cacd;"></div>
<div style="left:160.5px;top:526.5px;width:13.5px;height:4.2px;border-radius:50%;background:radial-gradient(ellipse at 50% 50%,#d8dadc 0 14%,#4f5967 28%,#283039 75%)"></div>
<div style="left:156.0px;top:527.9px;width:1.6px;height:1.6px;background:#c8cacd;"></div>
<div style="left:160.5px;top:533.0px;width:13.5px;height:4.2px;border-radius:50%;background:radial-gradient(ellipse at 50% 50%,#d8dadc 0 14%,#4f5967 28%,#283039 75%)"></div>
<div style="left:156.0px;top:534.3px;width:1.6px;height:1.6px;background:#c8cacd;"></div>
<div style="left:160.5px;top:539.4px;width:13.5px;height:4.2px;border-radius:50%;background:radial-gradient(ellipse at 50% 50%,#d8dadc 0 14%,#4f5967 28%,#283039 75%)"></div>
<div style="left:156.0px;top:540.8px;width:1.6px;height:1.6px;background:#c8cacd;"></div>
<div style="left:160.5px;top:545.9px;width:13.5px;height:4.2px;border-radius:50%;background:radial-gradient(ellipse at 50% 50%,#d8dadc 0 14%,#4f5967 28%,#283039 75%)"></div>
<div style="left:156.0px;top:547.2px;width:1.6px;height:1.6px;background:#c8cacd;"></div>
<div style="left:160.5px;top:552.4px;width:13.5px;height:4.2px;border-radius:50%;background:radial-gradient(ellipse at 50% 50%,#d8dadc 0 14%,#4f5967 28%,#283039 75%)"></div>
<div style="left:156.0px;top:553.7px;width:1.6px;height:1.6px;background:#c8cacd;"></div>
<div style="left:160.5px;top:558.8px;width:13.5px;height:4.2px;border-radius:50%;background:radial-gradient(ellipse at 50% 50%,#d8dadc 0 14%,#4f5967 28%,#283039 75%)"></div>
<div style="left:156.0px;top:560.1px;width:1.6px;height:1.6px;background:#c8cacd;"></div>
<div style="left:160.5px;top:565.2px;width:13.5px;height:4.2px;border-radius:50%;background:radial-gradient(ellipse at 50% 50%,#d8dadc 0 14%,#4f5967 28%,#283039 75%)"></div>
<div style="left:156.0px;top:566.6px;width:1.6px;height:1.6px;background:#c8cacd;"></div>
<div style="left:160.5px;top:571.7px;width:13.5px;height:4.2px;border-radius:50%;background:radial-gradient(ellipse at 50% 50%,#d8dadc 0 14%,#4f5967 28%,#283039 75%)"></div>
<div style="left:156.0px;top:573.0px;width:1.6px;height:1.6px;background:#c8cacd;"></div>
<div style="left:160.5px;top:578.1px;width:13.5px;height:4.2px;border-radius:50%;background:radial-gradient(ellipse at 50% 50%,#d8dadc 0 14%,#4f5967 28%,#283039 75%)"></div>
<div style="left:156.0px;top:579.5px;width:1.6px;height:1.6px;background:#c8cacd;"></div>
<span class="sm" style="left:167px;top:594px;font-size:6px;color:#d8dadd;font-weight:bold;transform:translate(-50%,-50%) rotate(0deg) scaleX(1.0)">RGB</span>
<span class="sm" style="left:167px;top:399.5px;font-size:5px;color:#d8dadd;font-weight:bold;transform:translate(-50%,-50%) rotate(0deg) scaleX(1.0)">J32</span>
<div style="left:249.0px;top:426.4px;width:66.0px;height:93.6px;background:transparent;border:1px solid #c8c8c8;box-sizing:border-box;"></div>
<svg style="position:absolute;left:249px;top:420px" width="66" height="110" viewBox="0 0 66 110">
<path d="M4 10 H20 V6 H46 V10 H62 V62 L56 70 V92 H44 V100 H22 V92 H10 V70 L4 62 Z" fill="#e8eaec"/>
<rect x="26" y="0" width="14" height="22" fill="#a5a7ab"/>
<rect x="13" y="28" width="7" height="22" rx="3.5" fill="#2a2d33"/>
<rect x="46" y="28" width="7" height="22" rx="3.5" fill="#2a2d33"/>
<rect x="13" y="70" width="7" height="18" rx="3.5" fill="#2a2d33"/>
<rect x="46" y="70" width="7" height="18" rx="3.5" fill="#2a2d33"/>
<rect x="26" y="86" width="14" height="22" fill="#8d8f93"/>
<path d="M26 60 L34 92 L40 60" stroke="#c4c6c9" stroke-width="2" fill="none"/>
</svg>
<span class="sm" style="left:301px;top:422px;font-size:10px;color:#e0e0e0;font-weight:bold;transform:translate(-50%,-50%) rotate(0deg) scaleX(1.0)">+</span>
<span class="sm" style="left:282px;top:533.5px;font-size:6px;color:#cfd2d6;font-weight:bold;transform:translate(-50%,-50%) rotate(0deg) scaleX(1.0)">VDD_RTC</span>
<div style="left:364.5px;top:424.0px;width:27.0px;height:99.0px;background:linear-gradient(90deg,#e0e2e4,#f2f3f4);border-radius:2px;"></div>
<div style="left:366.0px;top:426.0px;width:7.0px;height:95.0px;background:linear-gradient(90deg,#3b5fa8,#7393cf);"></div>
<div style="left:373.0px;top:429.0px;width:13.0px;height:89.0px;background:linear-gradient(90deg,#d5d7da,#f0f1f2);"></div>
<div style="left:386.0px;top:426.0px;width:5.5px;height:95.0px;background:repeating-linear-gradient(#9a9da1 0 1px,#2a2d31 1px 4px);"></div>
<span class="sm" style="left:379.5px;top:529.6px;font-size:6px;color:#d8dadd;font-weight:bold;transform:translate(-50%,-50%) rotate(0deg) scaleX(1.0)">RGB LCD</span>
<span class="sm" style="left:378px;top:418px;font-size:5px;color:#d8dadd;font-weight:bold;transform:translate(-50%,-50%) rotate(0deg) scaleX(1.0)">J9</span>
<div style="left:507.6px;top:427.0px;width:184.0px;height:137.0px;background:#111316;border:1.2px solid #d5d8db;box-sizing:border-box;"></div>
<div style="left:512.0px;top:430.5px;width:176.0px;height:1.5px;background:repeating-linear-gradient(90deg,#cdb070 0 1.5px,transparent 1.5px 2.6px);"></div>
<div style="left:512.0px;top:559.0px;width:176.0px;height:1.5px;background:repeating-linear-gradient(90deg,#cdb070 0 1.5px,transparent 1.5px 2.6px);"></div>
<div style="left:511.5px;top:431.0px;width:1.5px;height:129.0px;background:repeating-linear-gradient(#cdb070 0 1.5px,transparent 1.5px 2.6px);"></div>
<div style="left:687.0px;top:431.0px;width:1.5px;height:129.0px;background:repeating-linear-gradient(#cdb070 0 1.5px,transparent 1.5px 2.6px);"></div>
<div style="left:514.6px;top:433.1px;width:170.8px;height:1.5px;background:repeating-linear-gradient(90deg,#cdb070 0 1.5px,transparent 1.5px 2.6px);"></div>
<div style="left:514.6px;top:556.4px;width:170.8px;height:1.5px;background:repeating-linear-gradient(90deg,#cdb070 0 1.5px,transparent 1.5px 2.6px);"></div>
<div style="left:514.1px;top:433.6px;width:1.5px;height:123.8px;background:repeating-linear-gradient(#cdb070 0 1.5px,transparent 1.5px 2.6px);"></div>
<div style="left:684.4px;top:433.6px;width:1.5px;height:123.8px;background:repeating-linear-gradient(#cdb070 0 1.5px,transparent 1.5px 2.6px);"></div>
<div style="left:517.0px;top:436.0px;width:166.0px;height:118.0px;background:#16181c;"></div>
<div style="left:551.0px;top:433.0px;width:13.0px;height:5.0px;background:#d9d3c0;"></div>
<div style="left:632.0px;top:433.0px;width:16.0px;height:5.0px;background:#d9d3c0;"></div>
<div style="left:551.0px;top:553.0px;width:13.0px;height:5.0px;background:#d9d3c0;"></div>
<div style="left:632.0px;top:553.0px;width:16.0px;height:5.0px;background:#d9d3c0;"></div>
<div style="left:513.0px;top:460.0px;width:5.0px;height:16.0px;background:#d9d3c0;"></div>
<div style="left:681.0px;top:460.0px;width:5.0px;height:16.0px;background:#d9d3c0;"></div>
<div style="left:513.0px;top:520.0px;width:5.0px;height:16.0px;background:#d9d3c0;"></div>
<div style="left:681.0px;top:520.0px;width:5.0px;height:16.0px;background:#d9d3c0;"></div>
<div style="left:569.0px;top:438.0px;width:49.0px;height:37.0px;background:#1b1d21;border-radius:1px;"></div>
<span class="sm" style="left:584px;top:458px;font-size:4.6px;color:rgba(190,190,190,.5);font-weight:normal">505&nbsp;&nbsp;KLM8G1</span>
<span class="sm" style="left:588px;top:468px;font-size:4.6px;color:rgba(190,190,190,.5);font-weight:normal">• S1E6530</span>
<div style="left:529.0px;top:470.0px;width:28.0px;height:28.0px;background:#1c1e22;"></div>
<div style="left:564.0px;top:482.0px;width:56.0px;height:54.0px;background:radial-gradient(#2d5a30,#1e4222 70%,#1b3a1f);border:1px solid #6f9a5f;box-sizing:border-box;"></div>
<div style="left:585.0px;top:502.0px;width:13.0px;height:10.0px;background:#1a2c1c;"></div>
<div style="left:629.0px;top:472.0px;width:47.0px;height:36.0px;background:#1c1e22;"></div>
<div style="left:629.0px;top:510.0px;width:47.0px;height:34.0px;background:#1c1e22;"></div>
<span class="sm" style="left:634px;top:479px;font-size:4.6px;color:rgba(190,190,190,.55);font-weight:normal">SAMSUNG&nbsp;&nbsp;&nbsp;&nbsp;505</span>
<span class="sm" style="left:634px;top:487px;font-size:4.6px;color:rgba(190,190,190,.55);font-weight:normal">K4B4G1646D-BYK0</span>
<span class="sm" style="left:634px;top:514px;font-size:4.6px;color:rgba(190,190,190,.55);font-weight:normal">SAMSUNG&nbsp;&nbsp;&nbsp;&nbsp;505</span>
<span class="sm" style="left:634px;top:522px;font-size:4.6px;color:rgba(190,190,190,.55);font-weight:normal">K4B4G1646D-BYK0</span>
<span class="sm" style="left:644px;top:537px;font-size:4.6px;color:rgba(190,190,190,.55);font-weight:normal">• S1E7590</span>
<div style="left:521.6px;top:440.0px;width:4.8px;height:7.0px;background:linear-gradient(#c4c5c2 0 30%,#3a3c40 30% 70%,#c4c5c2 70%);border-radius:1px"></div>
<div style="left:527.6px;top:440.0px;width:4.8px;height:7.0px;background:linear-gradient(#c4c5c2 0 30%,#3a3c40 30% 70%,#c4c5c2 70%);border-radius:1px"></div>
<div style="left:537.6px;top:440.0px;width:7.1px;height:6.0px;background:linear-gradient(90deg,#c4c5c2 0 30%,#3a3c40 30% 70%,#c4c5c2 70%);border-radius:1px"></div>
<div style="left:545.9px;top:440.0px;width:7.1px;height:6.0px;background:linear-gradient(90deg,#c4c5c2 0 30%,#3a3c40 30% 70%,#c4c5c2 70%);border-radius:1px"></div>
<div style="left:554.3px;top:440.0px;width:7.1px;height:6.0px;background:linear-gradient(90deg,#c4c5c2 0 30%,#3a3c40 30% 70%,#c4c5c2 70%);border-radius:1px"></div>
<div style="left:540.6px;top:450.0px;width:6.5px;height:6.0px;background:linear-gradient(90deg,#c4c5c2 0 30%,#3a3c40 30% 70%,#c4c5c2 70%);border-radius:1px"></div>
<div style="left:548.3px;top:450.0px;width:6.5px;height:6.0px;background:linear-gradient(90deg,#c4c5c2 0 30%,#3a3c40 30% 70%,#c4c5c2 70%);border-radius:1px"></div>
<div style="left:555.9px;top:450.0px;width:6.5px;height:6.0px;background:linear-gradient(90deg,#c4c5c2 0 30%,#3a3c40 30% 70%,#c4c5c2 70%);border-radius:1px"></div>
<div style="left:523.0px;top:452.6px;width:12.0px;height:5.8px;background:linear-gradient(90deg,#c4c5c2 0 30%,#3a3c40 30% 70%,#c4c5c2 70%);border-radius:1px"></div>
<div style="left:523.0px;top:459.6px;width:12.0px;height:5.8px;background:linear-gradient(90deg,#c4c5c2 0 30%,#3a3c40 30% 70%,#c4c5c2 70%);border-radius:1px"></div>
<div style="left:545.6px;top:458.0px;width:4.8px;height:6.0px;background:linear-gradient(#c4c5c2 0 30%,#3a3c40 30% 70%,#c4c5c2 70%);border-radius:1px"></div>
<div style="left:551.6px;top:458.0px;width:4.8px;height:6.0px;background:linear-gradient(#c4c5c2 0 30%,#3a3c40 30% 70%,#c4c5c2 70%);border-radius:1px"></div>
<div style="left:557.6px;top:458.0px;width:4.8px;height:6.0px;background:linear-gradient(#c4c5c2 0 30%,#3a3c40 30% 70%,#c4c5c2 70%);border-radius:1px"></div>
<div style="left:521.6px;top:502.0px;width:6.6px;height:6.0px;background:linear-gradient(90deg,#c4c5c2 0 30%,#3a3c40 30% 70%,#c4c5c2 70%);border-radius:1px"></div>
<div style="left:529.4px;top:502.0px;width:6.6px;height:6.0px;background:linear-gradient(90deg,#c4c5c2 0 30%,#3a3c40 30% 70%,#c4c5c2 70%);border-radius:1px"></div>
<div style="left:537.2px;top:502.0px;width:6.6px;height:6.0px;background:linear-gradient(90deg,#c4c5c2 0 30%,#3a3c40 30% 70%,#c4c5c2 70%);border-radius:1px"></div>
<div style="left:545.0px;top:502.0px;width:6.6px;height:6.0px;background:linear-gradient(90deg,#c4c5c2 0 30%,#3a3c40 30% 70%,#c4c5c2 70%);border-radius:1px"></div>
<div style="left:552.8px;top:502.0px;width:6.6px;height:6.0px;background:linear-gradient(90deg,#c4c5c2 0 30%,#3a3c40 30% 70%,#c4c5c2 70%);border-radius:1px"></div>
<div style="left:521.6px;top:510.0px;width:5.5px;height:6.0px;background:linear-gradient(#c4c5c2 0 30%,#3a3c40 30% 70%,#c4c5c2 70%);border-radius:1px"></div>
<div style="left:528.4px;top:510.0px;width:5.5px;height:6.0px;background:linear-gradient(#c4c5c2 0 30%,#3a3c40 30% 70%,#c4c5c2 70%);border-radius:1px"></div>
<div style="left:535.1px;top:510.0px;width:5.5px;height:6.0px;background:linear-gradient(#c4c5c2 0 30%,#3a3c40 30% 70%,#c4c5c2 70%);border-radius:1px"></div>
<div style="left:541.9px;top:510.0px;width:5.5px;height:6.0px;background:linear-gradient(#c4c5c2 0 30%,#3a3c40 30% 70%,#c4c5c2 70%);border-radius:1px"></div>
<div style="left:523.6px;top:518.0px;width:7.3px;height:6.0px;background:linear-gradient(90deg,#c4c5c2 0 30%,#3a3c40 30% 70%,#c4c5c2 70%);border-radius:1px"></div>
<div style="left:532.1px;top:518.0px;width:7.3px;height:6.0px;background:linear-gradient(90deg,#c4c5c2 0 30%,#3a3c40 30% 70%,#c4c5c2 70%);border-radius:1px"></div>
<div style="left:540.6px;top:518.0px;width:7.3px;height:6.0px;background:linear-gradient(90deg,#c4c5c2 0 30%,#3a3c40 30% 70%,#c4c5c2 70%);border-radius:1px"></div>
<div style="left:549.1px;top:518.0px;width:7.3px;height:6.0px;background:linear-gradient(90deg,#c4c5c2 0 30%,#3a3c40 30% 70%,#c4c5c2 70%);border-radius:1px"></div>
<div style="left:521.6px;top:527.0px;width:7.5px;height:6.0px;background:linear-gradient(90deg,#c4c5c2 0 30%,#3a3c40 30% 70%,#c4c5c2 70%);border-radius:1px"></div>
<div style="left:530.3px;top:527.0px;width:7.5px;height:6.0px;background:linear-gradient(90deg,#c4c5c2 0 30%,#3a3c40 30% 70%,#c4c5c2 70%);border-radius:1px"></div>
<div style="left:538.9px;top:527.0px;width:7.5px;height:6.0px;background:linear-gradient(90deg,#c4c5c2 0 30%,#3a3c40 30% 70%,#c4c5c2 70%);border-radius:1px"></div>
<div style="left:524.6px;top:536.0px;width:7.0px;height:6.0px;background:linear-gradient(90deg,#c4c5c2 0 30%,#3a3c40 30% 70%,#c4c5c2 70%);border-radius:1px"></div>
<div style="left:532.9px;top:536.0px;width:7.0px;height:6.0px;background:linear-gradient(90deg,#c4c5c2 0 30%,#3a3c40 30% 70%,#c4c5c2 70%);border-radius:1px"></div>
<div style="left:541.1px;top:536.0px;width:7.0px;height:6.0px;background:linear-gradient(90deg,#c4c5c2 0 30%,#3a3c40 30% 70%,#c4c5c2 70%);border-radius:1px"></div>
<div style="left:549.4px;top:536.0px;width:7.0px;height:6.0px;background:linear-gradient(90deg,#c4c5c2 0 30%,#3a3c40 30% 70%,#c4c5c2 70%);border-radius:1px"></div>
<div style="left:526.6px;top:545.0px;width:7.5px;height:5.0px;background:linear-gradient(90deg,#c4c5c2 0 30%,#3a3c40 30% 70%,#c4c5c2 70%);border-radius:1px"></div>
<div style="left:535.3px;top:545.0px;width:7.5px;height:5.0px;background:linear-gradient(90deg,#c4c5c2 0 30%,#3a3c40 30% 70%,#c4c5c2 70%);border-radius:1px"></div>
<div style="left:543.9px;top:545.0px;width:7.5px;height:5.0px;background:linear-gradient(90deg,#c4c5c2 0 30%,#3a3c40 30% 70%,#c4c5c2 70%);border-radius:1px"></div>
<div style="left:630.6px;top:440.0px;width:4.8px;height:6.0px;background:linear-gradient(#c4c5c2 0 30%,#3a3c40 30% 70%,#c4c5c2 70%);border-radius:1px"></div>
<div style="left:636.6px;top:440.0px;width:4.8px;height:6.0px;background:linear-gradient(#c4c5c2 0 30%,#3a3c40 30% 70%,#c4c5c2 70%);border-radius:1px"></div>
<div style="left:642.6px;top:440.0px;width:4.8px;height:6.0px;background:linear-gradient(#c4c5c2 0 30%,#3a3c40 30% 70%,#c4c5c2 70%);border-radius:1px"></div>
<div style="left:650.6px;top:440.0px;width:7.1px;height:6.0px;background:linear-gradient(90deg,#c4c5c2 0 30%,#3a3c40 30% 70%,#c4c5c2 70%);border-radius:1px"></div>
<div style="left:658.9px;top:440.0px;width:7.1px;height:6.0px;background:linear-gradient(90deg,#c4c5c2 0 30%,#3a3c40 30% 70%,#c4c5c2 70%);border-radius:1px"></div>
<div style="left:667.3px;top:440.0px;width:7.1px;height:6.0px;background:linear-gradient(90deg,#c4c5c2 0 30%,#3a3c40 30% 70%,#c4c5c2 70%);border-radius:1px"></div>
<div style="left:631.6px;top:452.0px;width:6.1px;height:6.0px;background:linear-gradient(90deg,#c4c5c2 0 30%,#3a3c40 30% 70%,#c4c5c2 70%);border-radius:1px"></div>
<div style="left:638.9px;top:452.0px;width:6.1px;height:6.0px;background:linear-gradient(90deg,#c4c5c2 0 30%,#3a3c40 30% 70%,#c4c5c2 70%);border-radius:1px"></div>
<div style="left:646.3px;top:452.0px;width:6.1px;height:6.0px;background:linear-gradient(90deg,#c4c5c2 0 30%,#3a3c40 30% 70%,#c4c5c2 70%);border-radius:1px"></div>
<div style="left:653.6px;top:452.0px;width:6.1px;height:6.0px;background:linear-gradient(90deg,#c4c5c2 0 30%,#3a3c40 30% 70%,#c4c5c2 70%);border-radius:1px"></div>
<div style="left:660.9px;top:452.0px;width:6.1px;height:6.0px;background:linear-gradient(90deg,#c4c5c2 0 30%,#3a3c40 30% 70%,#c4c5c2 70%);border-radius:1px"></div>
<div style="left:668.3px;top:452.0px;width:6.1px;height:6.0px;background:linear-gradient(90deg,#c4c5c2 0 30%,#3a3c40 30% 70%,#c4c5c2 70%);border-radius:1px"></div>
<div style="left:631.6px;top:460.0px;width:7.0px;height:5.0px;background:linear-gradient(90deg,#c4c5c2 0 30%,#3a3c40 30% 70%,#c4c5c2 70%);border-radius:1px"></div>
<div style="left:639.8px;top:460.0px;width:7.0px;height:5.0px;background:linear-gradient(90deg,#c4c5c2 0 30%,#3a3c40 30% 70%,#c4c5c2 70%);border-radius:1px"></div>
<div style="left:648.0px;top:460.0px;width:7.0px;height:5.0px;background:linear-gradient(90deg,#c4c5c2 0 30%,#3a3c40 30% 70%,#c4c5c2 70%);border-radius:1px"></div>
<div style="left:656.2px;top:460.0px;width:7.0px;height:5.0px;background:linear-gradient(90deg,#c4c5c2 0 30%,#3a3c40 30% 70%,#c4c5c2 70%);border-radius:1px"></div>
<div style="left:664.4px;top:460.0px;width:7.0px;height:5.0px;background:linear-gradient(90deg,#c4c5c2 0 30%,#3a3c40 30% 70%,#c4c5c2 70%);border-radius:1px"></div>
<div style="left:598.6px;top:540.0px;width:6.3px;height:8.0px;background:linear-gradient(#c4c5c2 0 30%,#3a3c40 30% 70%,#c4c5c2 70%);border-radius:1px"></div>
<div style="left:606.1px;top:540.0px;width:6.3px;height:8.0px;background:linear-gradient(#c4c5c2 0 30%,#3a3c40 30% 70%,#c4c5c2 70%);border-radius:1px"></div>
<div style="left:613.6px;top:540.0px;width:6.3px;height:8.0px;background:linear-gradient(#c4c5c2 0 30%,#3a3c40 30% 70%,#c4c5c2 70%);border-radius:1px"></div>
<div style="left:621.1px;top:540.0px;width:6.3px;height:8.0px;background:linear-gradient(#c4c5c2 0 30%,#3a3c40 30% 70%,#c4c5c2 70%);border-radius:1px"></div>
<div style="left:680.0px;top:465.6px;width:4.0px;height:6.3px;background:linear-gradient(#c4c5c2 0 30%,#3a3c40 30% 70%,#c4c5c2 70%);border-radius:1px"></div>
<div style="left:680.0px;top:473.1px;width:4.0px;height:6.3px;background:linear-gradient(#c4c5c2 0 30%,#3a3c40 30% 70%,#c4c5c2 70%);border-radius:1px"></div>
<div style="left:620.0px;top:487.6px;width:7.0px;height:7.4px;background:linear-gradient(#c4c5c2 0 30%,#3a3c40 30% 70%,#c4c5c2 70%);border-radius:1px"></div>
<div style="left:620.0px;top:496.2px;width:7.0px;height:7.4px;background:linear-gradient(#c4c5c2 0 30%,#3a3c40 30% 70%,#c4c5c2 70%);border-radius:1px"></div>
<div style="left:620.0px;top:504.8px;width:7.0px;height:7.4px;background:linear-gradient(#c4c5c2 0 30%,#3a3c40 30% 70%,#c4c5c2 70%);border-radius:1px"></div>
<div style="left:620.0px;top:513.4px;width:7.0px;height:7.4px;background:linear-gradient(#c4c5c2 0 30%,#3a3c40 30% 70%,#c4c5c2 70%);border-radius:1px"></div>
<div style="left:620.0px;top:522.0px;width:7.0px;height:7.4px;background:linear-gradient(#c4c5c2 0 30%,#3a3c40 30% 70%,#c4c5c2 70%);border-radius:1px"></div>
<div style="left:541.0px;top:544.0px;width:7.0px;height:8.0px;background:#d8d8c8;"></div>
<div style="left:660.0px;top:441.0px;width:8.0px;height:11.0px;background:#2a2c30;border-radius:1px;"></div>
<div style="left:658.5px;top:442.0px;width:1.5px;height:9.0px;background:repeating-linear-gradient(#bbb 0 1.65px,transparent 1.65px 3.00px)"></div>
<div style="left:668.0px;top:442.0px;width:1.5px;height:9.0px;background:repeating-linear-gradient(#bbb 0 1.65px,transparent 1.65px 3.00px)"></div>
<div style="left:262.8px;top:320.7px;width:33.8px;height:10.3px;background:#2f3237;border-radius:1px;"></div>
<div style="left:263.8px;top:314.7px;width:31.8px;height:6px;background:repeating-linear-gradient(90deg,#c6c9cd 0 2.31px,transparent 2.31px 4.20px)"></div>
<div style="left:263.8px;top:331.0px;width:31.8px;height:6px;background:repeating-linear-gradient(90deg,#c6c9cd 0 2.31px,transparent 2.31px 4.20px)"></div>
<div style="left:267.6px;top:299.0px;width:8.1px;height:6.0px;background:linear-gradient(90deg,#c4c7cb 0 30%,#3a3c40 30% 70%,#c4c7cb 70%);border-radius:1px"></div>
<div style="left:276.9px;top:299.0px;width:8.1px;height:6.0px;background:linear-gradient(90deg,#c4c7cb 0 30%,#3a3c40 30% 70%,#c4c7cb 70%);border-radius:1px"></div>
<div style="left:286.3px;top:299.0px;width:8.1px;height:6.0px;background:linear-gradient(90deg,#c4c7cb 0 30%,#3a3c40 30% 70%,#c4c7cb 70%);border-radius:1px"></div>
<div style="left:275.6px;top:305.0px;width:8.8px;height:5.0px;background:linear-gradient(90deg,#c4c7cb 0 30%,#3a3c40 30% 70%,#c4c7cb 70%);border-radius:1px"></div>
<div style="left:285.6px;top:305.0px;width:8.8px;height:5.0px;background:linear-gradient(90deg,#c4c7cb 0 30%,#3a3c40 30% 70%,#c4c7cb 70%);border-radius:1px"></div>
<div style="left:298.0px;top:332.0px;width:6.4px;height:11.0px;background:linear-gradient(#c4c7cb 0 30%,#3a3c40 30% 70%,#c4c7cb 70%);border-radius:1px"></div>
<span class="sm" style="left:300.0px;top:313.2px;font-size:6.5px;color:#c3c6ca;font-weight:bold;opacity:0.36000000000000004">R2</span>
<div style="left:176.0px;top:330.0px;width:17.0px;height:15.0px;background:#2f3237;border-radius:1px;"></div>
<div style="left:177.0px;top:326.0px;width:15.0px;height:4px;background:repeating-linear-gradient(90deg,#c6c9cd 0 2.31px,transparent 2.31px 4.20px)"></div>
<div style="left:177.0px;top:345.0px;width:15.0px;height:4px;background:repeating-linear-gradient(90deg,#c6c9cd 0 2.31px,transparent 2.31px 4.20px)"></div>
<div style="left:162.7px;top:327.0px;width:10.3px;height:5.4px;background:linear-gradient(90deg,#c9ccd0 0 30%,#3a3c40 30% 70%,#c9ccd0 70%);border-radius:1px"></div>
<div style="left:162.7px;top:348.0px;width:10.3px;height:6.5px;background:linear-gradient(90deg,#c9ccd0 0 30%,#3a3c40 30% 70%,#c9ccd0 70%);border-radius:1px"></div>
<div style="left:153.6px;top:338.0px;width:18.2px;height:8.7px;background:linear-gradient(90deg,#a6a9ad 0 30%,#3a3c40 30% 70%,#a6a9ad 70%);border-radius:1px"></div>
<div style="left:194.0px;top:339.0px;width:6.0px;height:10.0px;background:linear-gradient(#c9ccd0 0 30%,#3a3c40 30% 70%,#c9ccd0 70%);border-radius:1px"></div>
<div style="left:202.0px;top:339.0px;width:6.0px;height:10.0px;background:linear-gradient(#c9ccd0 0 30%,#3a3c40 30% 70%,#c9ccd0 70%);border-radius:1px"></div>
<div style="left:249.8px;top:354.5px;width:10.2px;height:5.5px;background:linear-gradient(90deg,#c9ccd0 0 30%,#3a3c40 30% 70%,#c9ccd0 70%);border-radius:1px"></div>
<div style="left:249.8px;top:361.0px;width:10.2px;height:5.0px;background:linear-gradient(90deg,#c9ccd0 0 30%,#3a3c40 30% 70%,#c9ccd0 70%);border-radius:1px"></div>
<div style="left:264.6px;top:356.0px;width:6.1px;height:11.5px;background:linear-gradient(#c4c7cb 0 30%,#3a3c40 30% 70%,#c4c7cb 70%);border-radius:1px"></div>
<div style="left:271.9px;top:356.0px;width:6.1px;height:11.5px;background:linear-gradient(#c4c7cb 0 30%,#3a3c40 30% 70%,#c4c7cb 70%);border-radius:1px"></div>
<div style="left:279.3px;top:356.0px;width:6.1px;height:11.5px;background:linear-gradient(#c4c7cb 0 30%,#3a3c40 30% 70%,#c4c7cb 70%);border-radius:1px"></div>
<span class="sm" style="left:160.0px;top:321.2px;font-size:5.6px;color:#c3c6ca;font-weight:bold;opacity:0.55">R21C</span>
<span class="sm" style="left:162.0px;top:355.4px;font-size:4.2px;color:#c3c6ca;font-weight:bold;opacity:0.55">R21C</span>
<span class="sm" style="left:162.0px;top:360.4px;font-size:4.2px;color:#c3c6ca;font-weight:bold;opacity:0.55">R21C</span>
<div style="left:400.0px;top:281.6px;width:11.0px;height:6.0px;background:linear-gradient(90deg,#c8cbcf 0 30%,#3a3c40 30% 70%,#c8cbcf 70%);border-radius:1px"></div>
<div style="left:400.0px;top:288.9px;width:11.0px;height:6.0px;background:linear-gradient(90deg,#c8cbcf 0 30%,#3a3c40 30% 70%,#c8cbcf 70%);border-radius:1px"></div>
<div style="left:400.0px;top:296.1px;width:11.0px;height:6.0px;background:linear-gradient(90deg,#c8cbcf 0 30%,#3a3c40 30% 70%,#c8cbcf 70%);border-radius:1px"></div>
<div style="left:400.0px;top:303.4px;width:11.0px;height:6.0px;background:linear-gradient(90deg,#c8cbcf 0 30%,#3a3c40 30% 70%,#c8cbcf 70%);border-radius:1px"></div>
<div style="left:423.6px;top:296.0px;width:4.3px;height:6.5px;background:linear-gradient(#cfd2d5 0 30%,#3a3c40 30% 70%,#cfd2d5 70%);border-radius:1px"></div>
<div style="left:429.1px;top:296.0px;width:4.3px;height:6.5px;background:linear-gradient(#cfd2d5 0 30%,#3a3c40 30% 70%,#cfd2d5 70%);border-radius:1px"></div>
<div style="left:423.6px;top:303.5px;width:4.3px;height:6.5px;background:linear-gradient(#cfd2d5 0 30%,#3a3c40 30% 70%,#cfd2d5 70%);border-radius:1px"></div>
<div style="left:429.1px;top:303.5px;width:4.3px;height:6.5px;background:linear-gradient(#cfd2d5 0 30%,#3a3c40 30% 70%,#cfd2d5 70%);border-radius:1px"></div>
<div style="left:436.9px;top:296.0px;width:4.3px;height:6.5px;background:linear-gradient(#cfd2d5 0 30%,#3a3c40 30% 70%,#cfd2d5 70%);border-radius:1px"></div>
<div style="left:442.4px;top:296.0px;width:4.3px;height:6.5px;background:linear-gradient(#cfd2d5 0 30%,#3a3c40 30% 70%,#cfd2d5 70%);border-radius:1px"></div>
<div style="left:436.9px;top:303.5px;width:4.3px;height:6.5px;background:linear-gradient(#cfd2d5 0 30%,#3a3c40 30% 70%,#cfd2d5 70%);border-radius:1px"></div>
<div style="left:442.4px;top:303.5px;width:4.3px;height:6.5px;background:linear-gradient(#cfd2d5 0 30%,#3a3c40 30% 70%,#cfd2d5 70%);border-radius:1px"></div>
<div style="left:450.2px;top:296.0px;width:4.3px;height:6.5px;background:linear-gradient(#cfd2d5 0 30%,#3a3c40 30% 70%,#cfd2d5 70%);border-radius:1px"></div>
<div style="left:455.7px;top:296.0px;width:4.3px;height:6.5px;background:linear-gradient(#cfd2d5 0 30%,#3a3c40 30% 70%,#cfd2d5 70%);border-radius:1px"></div>
<div style="left:450.2px;top:303.5px;width:4.3px;height:6.5px;background:linear-gradient(#cfd2d5 0 30%,#3a3c40 30% 70%,#cfd2d5 70%);border-radius:1px"></div>
<div style="left:455.7px;top:303.5px;width:4.3px;height:6.5px;background:linear-gradient(#cfd2d5 0 30%,#3a3c40 30% 70%,#cfd2d5 70%);border-radius:1px"></div>
<div style="left:463.5px;top:296.0px;width:4.3px;height:6.5px;background:linear-gradient(#cfd2d5 0 30%,#3a3c40 30% 70%,#cfd2d5 70%);border-radius:1px"></div>
<div style="left:469.0px;top:296.0px;width:4.3px;height:6.5px;background:linear-gradient(#cfd2d5 0 30%,#3a3c40 30% 70%,#cfd2d5 70%);border-radius:1px"></div>
<div style="left:463.5px;top:303.5px;width:4.3px;height:6.5px;background:linear-gradient(#cfd2d5 0 30%,#3a3c40 30% 70%,#cfd2d5 70%);border-radius:1px"></div>
<div style="left:469.0px;top:303.5px;width:4.3px;height:6.5px;background:linear-gradient(#cfd2d5 0 30%,#3a3c40 30% 70%,#cfd2d5 70%);border-radius:1px"></div>
<div style="left:478.6px;top:295.0px;width:5.1px;height:8.0px;background:linear-gradient(#c6c9cd 0 30%,#3a3c40 30% 70%,#c6c9cd 70%);border-radius:1px"></div>
<div style="left:484.9px;top:295.0px;width:5.1px;height:8.0px;background:linear-gradient(#c6c9cd 0 30%,#3a3c40 30% 70%,#c6c9cd 70%);border-radius:1px"></div>
<div style="left:491.2px;top:295.0px;width:5.1px;height:8.0px;background:linear-gradient(#c6c9cd 0 30%,#3a3c40 30% 70%,#c6c9cd 70%);border-radius:1px"></div>
<div style="left:497.5px;top:295.0px;width:5.1px;height:8.0px;background:linear-gradient(#c6c9cd 0 30%,#3a3c40 30% 70%,#c6c9cd 70%);border-radius:1px"></div>
<div style="left:503.7px;top:295.0px;width:5.1px;height:8.0px;background:linear-gradient(#c6c9cd 0 30%,#3a3c40 30% 70%,#c6c9cd 70%);border-radius:1px"></div>
<div style="left:510.0px;top:295.0px;width:5.1px;height:8.0px;background:linear-gradient(#c6c9cd 0 30%,#3a3c40 30% 70%,#c6c9cd 70%);border-radius:1px"></div>
<div style="left:516.3px;top:295.0px;width:5.1px;height:8.0px;background:linear-gradient(#c6c9cd 0 30%,#3a3c40 30% 70%,#c6c9cd 70%);border-radius:1px"></div>
<div style="left:434.0px;top:313.0px;width:6.0px;height:9.0px;background:linear-gradient(#c8cbcf 0 30%,#3a3c40 30% 70%,#c8cbcf 70%);border-radius:1px"></div>
<div style="left:442.0px;top:313.0px;width:6.0px;height:9.0px;background:linear-gradient(#c8cbcf 0 30%,#3a3c40 30% 70%,#c8cbcf 70%);border-radius:1px"></div>
<div style="left:450.0px;top:313.0px;width:6.0px;height:9.0px;background:linear-gradient(#c8cbcf 0 30%,#3a3c40 30% 70%,#c8cbcf 70%);border-radius:1px"></div>
<div style="left:458.0px;top:313.0px;width:6.0px;height:9.0px;background:linear-gradient(#c8cbcf 0 30%,#3a3c40 30% 70%,#c8cbcf 70%);border-radius:1px"></div>
<div style="left:484.0px;top:311.6px;width:16.0px;height:3.8px;background:linear-gradient(90deg,#c6c9cd 0 30%,#3a3c40 30% 70%,#c6c9cd 70%);border-radius:1px"></div>
<div style="left:484.0px;top:316.6px;width:16.0px;height:3.8px;background:linear-gradient(90deg,#c6c9cd 0 30%,#3a3c40 30% 70%,#c6c9cd 70%);border-radius:1px"></div>
<div style="left:436.7px;top:331.0px;width:22.3px;height:23.5px;background:#3a3d42;border-radius:1px;"></div>
<div style="left:437.7px;top:329.5px;width:20.3px;height:1.5px;background:repeating-linear-gradient(90deg,#aeb1b5 0 1.43px,transparent 1.43px 2.60px)"></div>
<div style="left:437.7px;top:354.5px;width:20.3px;height:1.5px;background:repeating-linear-gradient(90deg,#aeb1b5 0 1.43px,transparent 1.43px 2.60px)"></div>
<div style="left:435.2px;top:332.0px;width:1.5px;height:21.5px;background:repeating-linear-gradient(#aeb1b5 0 1.43px,transparent 1.43px 2.60px)"></div>
<div style="left:459.0px;top:332.0px;width:1.5px;height:21.5px;background:repeating-linear-gradient(#aeb1b5 0 1.43px,transparent 1.43px 2.60px)"></div>
<div style="left:469.0px;top:319.0px;width:13.0px;height:11.0px;background:#2b2e33;border:1.5px solid #b8bbbf;box-sizing:border-box;border-radius:2px;"></div>
<div style="left:469.0px;top:331.6px;width:13.0px;height:6.5px;background:linear-gradient(90deg,#c8cbcf 0 30%,#3a3c40 30% 70%,#c8cbcf 70%);border-radius:1px"></div>
<div style="left:469.0px;top:339.3px;width:13.0px;height:6.5px;background:linear-gradient(90deg,#c8cbcf 0 30%,#3a3c40 30% 70%,#c8cbcf 70%);border-radius:1px"></div>
<div style="left:469.0px;top:346.9px;width:13.0px;height:6.5px;background:linear-gradient(90deg,#c8cbcf 0 30%,#3a3c40 30% 70%,#c8cbcf 70%);border-radius:1px"></div>
<div style="left:469.0px;top:354.6px;width:13.0px;height:6.5px;background:linear-gradient(90deg,#c8cbcf 0 30%,#3a3c40 30% 70%,#c8cbcf 70%);border-radius:1px"></div>
<div style="left:469.0px;top:362.3px;width:13.0px;height:6.5px;background:linear-gradient(90deg,#c8cbcf 0 30%,#3a3c40 30% 70%,#c8cbcf 70%);border-radius:1px"></div>
<div style="left:469.0px;top:369.9px;width:13.0px;height:6.5px;background:linear-gradient(90deg,#c8cbcf 0 30%,#3a3c40 30% 70%,#c8cbcf 70%);border-radius:1px"></div>
<div style="left:482.0px;top:336.6px;width:10.0px;height:5.8px;background:linear-gradient(90deg,#c0c3c7 0 30%,#3a3c40 30% 70%,#c0c3c7 70%);border-radius:1px"></div>
<div style="left:482.0px;top:343.6px;width:10.0px;height:5.8px;background:linear-gradient(90deg,#c0c3c7 0 30%,#3a3c40 30% 70%,#c0c3c7 70%);border-radius:1px"></div>
<div style="left:400.0px;top:311.6px;width:19.0px;height:7.1px;background:linear-gradient(90deg,#c8cbcf 0 30%,#3a3c40 30% 70%,#c8cbcf 70%);border-radius:1px"></div>
<div style="left:400.0px;top:319.9px;width:19.0px;height:7.1px;background:linear-gradient(90deg,#c8cbcf 0 30%,#3a3c40 30% 70%,#c8cbcf 70%);border-radius:1px"></div>
<div style="left:400.0px;top:328.3px;width:19.0px;height:7.1px;background:linear-gradient(90deg,#c8cbcf 0 30%,#3a3c40 30% 70%,#c8cbcf 70%);border-radius:1px"></div>
<div style="left:400.0px;top:336.6px;width:19.0px;height:7.1px;background:linear-gradient(90deg,#c8cbcf 0 30%,#3a3c40 30% 70%,#c8cbcf 70%);border-radius:1px"></div>
<div style="left:400.0px;top:344.9px;width:19.0px;height:7.1px;background:linear-gradient(90deg,#c8cbcf 0 30%,#3a3c40 30% 70%,#c8cbcf 70%);border-radius:1px"></div>
<div style="left:400.0px;top:353.3px;width:19.0px;height:7.1px;background:linear-gradient(90deg,#c8cbcf 0 30%,#3a3c40 30% 70%,#c8cbcf 70%);border-radius:1px"></div>
<div style="left:400.6px;top:363.6px;width:5.3px;height:11.4px;background:linear-gradient(#c8cbcf 0 30%,#3a3c40 30% 70%,#c8cbcf 70%);border-radius:1px"></div>
<div style="left:407.1px;top:363.6px;width:5.3px;height:11.4px;background:linear-gradient(#c8cbcf 0 30%,#3a3c40 30% 70%,#c8cbcf 70%);border-radius:1px"></div>
<div style="left:413.6px;top:363.6px;width:5.3px;height:11.4px;background:linear-gradient(#c8cbcf 0 30%,#3a3c40 30% 70%,#c8cbcf 70%);border-radius:1px"></div>
<div style="left:420.1px;top:363.6px;width:5.3px;height:11.4px;background:linear-gradient(#c8cbcf 0 30%,#3a3c40 30% 70%,#c8cbcf 70%);border-radius:1px"></div>
<div style="left:426.6px;top:363.6px;width:5.3px;height:11.4px;background:linear-gradient(#c8cbcf 0 30%,#3a3c40 30% 70%,#c8cbcf 70%);border-radius:1px"></div>
<div style="left:433.1px;top:363.6px;width:5.3px;height:11.4px;background:linear-gradient(#c8cbcf 0 30%,#3a3c40 30% 70%,#c8cbcf 70%);border-radius:1px"></div>
<div style="left:448.0px;top:361.6px;width:17.0px;height:6.8px;background:linear-gradient(90deg,#c8cbcf 0 30%,#3a3c40 30% 70%,#c8cbcf 70%);border-radius:1px"></div>
<div style="left:448.0px;top:369.6px;width:17.0px;height:6.8px;background:linear-gradient(90deg,#c8cbcf 0 30%,#3a3c40 30% 70%,#c8cbcf 70%);border-radius:1px"></div>
<span class="sm" style="left:403.0px;top:379.2px;font-size:6.5px;color:#c3c6ca;font-weight:bold;opacity:0.55">R21C0R21C0R21C0R</span>
<div style="left:535.6px;top:318.0px;width:5.6px;height:13.0px;background:linear-gradient(#c8cbcf 0 30%,#3a3c40 30% 70%,#c8cbcf 70%);border-radius:1px"></div>
<div style="left:542.4px;top:318.0px;width:5.6px;height:13.0px;background:linear-gradient(#c8cbcf 0 30%,#3a3c40 30% 70%,#c8cbcf 70%);border-radius:1px"></div>
<div style="left:549.2px;top:318.0px;width:5.6px;height:13.0px;background:linear-gradient(#c8cbcf 0 30%,#3a3c40 30% 70%,#c8cbcf 70%);border-radius:1px"></div>
<div style="left:556.0px;top:318.0px;width:5.6px;height:13.0px;background:linear-gradient(#c8cbcf 0 30%,#3a3c40 30% 70%,#c8cbcf 70%);border-radius:1px"></div>
<div style="left:562.8px;top:318.0px;width:5.6px;height:13.0px;background:linear-gradient(#c8cbcf 0 30%,#3a3c40 30% 70%,#c8cbcf 70%);border-radius:1px"></div>
<div style="left:539.0px;top:343.0px;width:19.0px;height:18.0px;background:#3a3d42;border-radius:1px;"></div>
<div style="left:540.0px;top:341.5px;width:17.0px;height:1.5px;background:repeating-linear-gradient(90deg,#aeb1b5 0 1.43px,transparent 1.43px 2.60px)"></div>
<div style="left:540.0px;top:361.0px;width:17.0px;height:1.5px;background:repeating-linear-gradient(90deg,#aeb1b5 0 1.43px,transparent 1.43px 2.60px)"></div>
<div style="left:537.5px;top:344.0px;width:1.5px;height:16.0px;background:repeating-linear-gradient(#aeb1b5 0 1.43px,transparent 1.43px 2.60px)"></div>
<div style="left:558.0px;top:344.0px;width:1.5px;height:16.0px;background:repeating-linear-gradient(#aeb1b5 0 1.43px,transparent 1.43px 2.60px)"></div>
<div style="left:565.6px;top:353.0px;width:6.5px;height:20.0px;background:linear-gradient(#c8cbcf 0 30%,#3a3c40 30% 70%,#c8cbcf 70%);border-radius:1px"></div>
<div style="left:573.3px;top:353.0px;width:6.5px;height:20.0px;background:linear-gradient(#c8cbcf 0 30%,#3a3c40 30% 70%,#c8cbcf 70%);border-radius:1px"></div>
<div style="left:580.9px;top:353.0px;width:6.5px;height:20.0px;background:linear-gradient(#c8cbcf 0 30%,#3a3c40 30% 70%,#c8cbcf 70%);border-radius:1px"></div>
<div style="left:540.6px;top:374.0px;width:7.3px;height:12.0px;background:linear-gradient(#c8cbcf 0 30%,#3a3c40 30% 70%,#c8cbcf 70%);border-radius:1px"></div>
<div style="left:549.1px;top:374.0px;width:7.3px;height:12.0px;background:linear-gradient(#c8cbcf 0 30%,#3a3c40 30% 70%,#c8cbcf 70%);border-radius:1px"></div>
<div style="left:540.6px;top:388.0px;width:7.3px;height:7.0px;background:linear-gradient(90deg,#b9bcc0 0 30%,#3a3c40 30% 70%,#b9bcc0 70%);border-radius:1px"></div>
<div style="left:549.1px;top:388.0px;width:7.3px;height:7.0px;background:linear-gradient(90deg,#b9bcc0 0 30%,#3a3c40 30% 70%,#b9bcc0 70%);border-radius:1px"></div>
<div style="left:532.6px;top:305.0px;width:6.0px;height:10.0px;background:linear-gradient(#c8cbcf 0 30%,#3a3c40 30% 70%,#c8cbcf 70%);border-radius:1px"></div>
<div style="left:539.9px;top:305.0px;width:6.0px;height:10.0px;background:linear-gradient(#c8cbcf 0 30%,#3a3c40 30% 70%,#c8cbcf 70%);border-radius:1px"></div>
<div style="left:547.1px;top:305.0px;width:6.0px;height:10.0px;background:linear-gradient(#c8cbcf 0 30%,#3a3c40 30% 70%,#c8cbcf 70%);border-radius:1px"></div>
<div style="left:554.4px;top:305.0px;width:6.0px;height:10.0px;background:linear-gradient(#c8cbcf 0 30%,#3a3c40 30% 70%,#c8cbcf 70%);border-radius:1px"></div>
<div style="left:539.6px;top:284.0px;width:6.1px;height:9.0px;background:linear-gradient(#c8cbcf 0 30%,#3a3c40 30% 70%,#c8cbcf 70%);border-radius:1px"></div>
<div style="left:546.9px;top:284.0px;width:6.1px;height:9.0px;background:linear-gradient(#c8cbcf 0 30%,#3a3c40 30% 70%,#c8cbcf 70%);border-radius:1px"></div>
<div style="left:554.3px;top:284.0px;width:6.1px;height:9.0px;background:linear-gradient(#c8cbcf 0 30%,#3a3c40 30% 70%,#c8cbcf 70%);border-radius:1px"></div>
<div style="left:519.0px;top:325.6px;width:13.0px;height:6.8px;background:linear-gradient(90deg,#c8cbcf 0 30%,#3a3c40 30% 70%,#c8cbcf 70%);border-radius:1px"></div>
<div style="left:519.0px;top:333.6px;width:13.0px;height:6.8px;background:linear-gradient(90deg,#c8cbcf 0 30%,#3a3c40 30% 70%,#c8cbcf 70%);border-radius:1px"></div>
<div style="left:522.0px;top:349.6px;width:12.0px;height:4.8px;background:linear-gradient(90deg,#c8cbcf 0 30%,#3a3c40 30% 70%,#c8cbcf 70%);border-radius:1px"></div>
<div style="left:522.0px;top:355.6px;width:12.0px;height:4.8px;background:linear-gradient(90deg,#c8cbcf 0 30%,#3a3c40 30% 70%,#c8cbcf 70%);border-radius:1px"></div>
<div style="left:602.0px;top:280.0px;width:12.0px;height:6.4px;background:linear-gradient(90deg,#c8cbcf 0 30%,#3a3c40 30% 70%,#c8cbcf 70%);border-radius:1px"></div>
<div style="left:717.8px;top:268.0px;width:11.7px;height:6.7px;background:linear-gradient(90deg,#c8cbcf 0 30%,#3a3c40 30% 70%,#c8cbcf 70%);border-radius:1px"></div>
<div style="left:673.6px;top:278.6px;width:7.8px;height:11.4px;background:linear-gradient(#c8cbcf 0 30%,#3a3c40 30% 70%,#c8cbcf 70%);border-radius:1px"></div>
<div style="left:636.6px;top:302.0px;width:7.8px;height:13.0px;background:linear-gradient(#c8cbcf 0 30%,#3a3c40 30% 70%,#c8cbcf 70%);border-radius:1px"></div>
<div style="left:645.6px;top:302.0px;width:7.8px;height:13.0px;background:linear-gradient(#c8cbcf 0 30%,#3a3c40 30% 70%,#c8cbcf 70%);border-radius:1px"></div>
<div style="left:654.6px;top:302.0px;width:7.8px;height:13.0px;background:linear-gradient(#c8cbcf 0 30%,#3a3c40 30% 70%,#c8cbcf 70%);border-radius:1px"></div>
<div style="left:637.0px;top:322.8px;width:32.7px;height:31.2px;background:#3c3f44;border-radius:1px;"></div>
<div style="left:638.0px;top:320.6px;width:30.7px;height:2.2px;background:repeating-linear-gradient(90deg,#b5b8bc 0 1.32px,transparent 1.32px 2.40px)"></div>
<div style="left:638.0px;top:354.0px;width:30.7px;height:2.2px;background:repeating-linear-gradient(90deg,#b5b8bc 0 1.32px,transparent 1.32px 2.40px)"></div>
<div style="left:634.8px;top:323.8px;width:2.2px;height:29.2px;background:repeating-linear-gradient(#b5b8bc 0 1.32px,transparent 1.32px 2.40px)"></div>
<div style="left:669.7px;top:323.8px;width:2.2px;height:29.2px;background:repeating-linear-gradient(#b5b8bc 0 1.32px,transparent 1.32px 2.40px)"></div>
<div style="left:619.0px;top:316.6px;width:11.7px;height:5.9px;background:linear-gradient(90deg,#c8cbcf 0 30%,#3a3c40 30% 70%,#c8cbcf 70%);border-radius:1px"></div>
<div style="left:619.0px;top:323.7px;width:11.7px;height:5.9px;background:linear-gradient(90deg,#c8cbcf 0 30%,#3a3c40 30% 70%,#c8cbcf 70%);border-radius:1px"></div>
<div style="left:619.0px;top:330.8px;width:11.7px;height:5.9px;background:linear-gradient(90deg,#c8cbcf 0 30%,#3a3c40 30% 70%,#c8cbcf 70%);border-radius:1px"></div>
<div style="left:619.0px;top:337.8px;width:11.7px;height:5.9px;background:linear-gradient(90deg,#c8cbcf 0 30%,#3a3c40 30% 70%,#c8cbcf 70%);border-radius:1px"></div>
<div style="left:619.0px;top:344.9px;width:11.7px;height:5.9px;background:linear-gradient(90deg,#c8cbcf 0 30%,#3a3c40 30% 70%,#c8cbcf 70%);border-radius:1px"></div>
<div style="left:677.5px;top:328.6px;width:11.5px;height:5.8px;background:linear-gradient(90deg,#c8cbcf 0 30%,#3a3c40 30% 70%,#c8cbcf 70%);border-radius:1px"></div>
<div style="left:677.5px;top:335.6px;width:11.5px;height:5.8px;background:linear-gradient(90deg,#c8cbcf 0 30%,#3a3c40 30% 70%,#c8cbcf 70%);border-radius:1px"></div>
<div style="left:677.5px;top:342.6px;width:11.5px;height:5.8px;background:linear-gradient(90deg,#c8cbcf 0 30%,#3a3c40 30% 70%,#c8cbcf 70%);border-radius:1px"></div>
<div style="left:628.6px;top:359.0px;width:5.7px;height:10.6px;background:linear-gradient(#c8cbcf 0 30%,#3a3c40 30% 70%,#c8cbcf 70%);border-radius:1px"></div>
<div style="left:635.5px;top:359.0px;width:5.7px;height:10.6px;background:linear-gradient(#c8cbcf 0 30%,#3a3c40 30% 70%,#c8cbcf 70%);border-radius:1px"></div>
<div style="left:642.3px;top:359.0px;width:5.7px;height:10.6px;background:linear-gradient(#c8cbcf 0 30%,#3a3c40 30% 70%,#c8cbcf 70%);border-radius:1px"></div>
<div style="left:649.2px;top:359.0px;width:5.7px;height:10.6px;background:linear-gradient(#c8cbcf 0 30%,#3a3c40 30% 70%,#c8cbcf 70%);border-radius:1px"></div>
<div style="left:656.0px;top:359.0px;width:5.7px;height:10.6px;background:linear-gradient(#c8cbcf 0 30%,#3a3c40 30% 70%,#c8cbcf 70%);border-radius:1px"></div>
<div style="left:662.9px;top:359.0px;width:5.7px;height:10.6px;background:linear-gradient(#c8cbcf 0 30%,#3a3c40 30% 70%,#c8cbcf 70%);border-radius:1px"></div>
<div style="left:669.7px;top:359.0px;width:5.7px;height:10.6px;background:linear-gradient(#c8cbcf 0 30%,#3a3c40 30% 70%,#c8cbcf 70%);border-radius:1px"></div>
<div style="left:650.6px;top:371.0px;width:6.7px;height:7.7px;background:linear-gradient(#b9bcc0 0 30%,#3a3c40 30% 70%,#b9bcc0 70%);border-radius:1px"></div>
<div style="left:658.5px;top:371.0px;width:6.7px;height:7.7px;background:linear-gradient(#b9bcc0 0 30%,#3a3c40 30% 70%,#b9bcc0 70%);border-radius:1px"></div>
<div style="left:666.3px;top:371.0px;width:6.7px;height:7.7px;background:linear-gradient(#b9bcc0 0 30%,#3a3c40 30% 70%,#b9bcc0 70%);border-radius:1px"></div>
<div style="left:606.0px;top:355.6px;width:11.7px;height:6.8px;background:linear-gradient(90deg,#c8cbcf 0 30%,#3a3c40 30% 70%,#c8cbcf 70%);border-radius:1px"></div>
<div style="left:606.0px;top:363.6px;width:11.7px;height:6.8px;background:linear-gradient(90deg,#c8cbcf 0 30%,#3a3c40 30% 70%,#c8cbcf 70%);border-radius:1px"></div>
<span class="sm" style="left:608.0px;top:318.0px;font-size:6.0px;color:#c3c6ca;font-weight:bold;opacity:0.55">R02</span>
<span class="sm" style="left:608.0px;top:325.5px;font-size:6.0px;color:#c3c6ca;font-weight:bold;opacity:0.55">R72</span>
<span class="sm" style="left:608.0px;top:333.0px;font-size:6.0px;color:#c3c6ca;font-weight:bold;opacity:0.55">R42</span>
<span class="sm" style="left:608.0px;top:340.5px;font-size:6.0px;color:#c3c6ca;font-weight:bold;opacity:0.55">R12</span>
<span class="sm" style="left:693.0px;top:330.0px;font-size:6.0px;color:#c3c6ca;font-weight:bold;opacity:0.55">R02</span>
<span class="sm" style="left:693.0px;top:337.5px;font-size:6.0px;color:#c3c6ca;font-weight:bold;opacity:0.55">R72</span>
<div style="left:787.0px;top:270.6px;width:8.0px;height:6.3px;background:linear-gradient(90deg,#c8cbcf 0 30%,#3a3c40 30% 70%,#c8cbcf 70%);border-radius:1px"></div>
<div style="left:787.0px;top:278.1px;width:8.0px;height:6.3px;background:linear-gradient(90deg,#c8cbcf 0 30%,#3a3c40 30% 70%,#c8cbcf 70%);border-radius:1px"></div>
<div style="left:798.0px;top:270.6px;width:8.0px;height:6.3px;background:linear-gradient(90deg,#c8cbcf 0 30%,#3a3c40 30% 70%,#c8cbcf 70%);border-radius:1px"></div>
<div style="left:798.0px;top:278.1px;width:8.0px;height:6.3px;background:linear-gradient(90deg,#c8cbcf 0 30%,#3a3c40 30% 70%,#c8cbcf 70%);border-radius:1px"></div>
<div style="left:800.6px;top:285.0px;width:6.3px;height:15.0px;background:linear-gradient(#c8cbcf 0 30%,#3a3c40 30% 70%,#c8cbcf 70%);border-radius:1px"></div>
<div style="left:808.1px;top:285.0px;width:6.3px;height:15.0px;background:linear-gradient(#c8cbcf 0 30%,#3a3c40 30% 70%,#c8cbcf 70%);border-radius:1px"></div>
<div style="left:778.6px;top:297.0px;width:6.3px;height:6.0px;background:linear-gradient(90deg,#c8cbcf 0 30%,#3a3c40 30% 70%,#c8cbcf 70%);border-radius:1px"></div>
<div style="left:786.1px;top:297.0px;width:6.3px;height:6.0px;background:linear-gradient(90deg,#c8cbcf 0 30%,#3a3c40 30% 70%,#c8cbcf 70%);border-radius:1px"></div>
<div style="left:797.0px;top:303.0px;width:23.0px;height:10.0px;background:#2f3237;border-radius:1px;"></div>
<div style="left:798.0px;top:301.0px;width:21.0px;height:2px;background:repeating-linear-gradient(90deg,#c8cbcf 0 2.20px,transparent 2.20px 4.00px)"></div>
<div style="left:798.0px;top:313.0px;width:21.0px;height:2px;background:repeating-linear-gradient(90deg,#c8cbcf 0 2.20px,transparent 2.20px 4.00px)"></div>
<div style="left:802.0px;top:316.6px;width:13.0px;height:4.8px;background:linear-gradient(90deg,#c8cbcf 0 30%,#3a3c40 30% 70%,#c8cbcf 70%);border-radius:1px"></div>
<div style="left:802.0px;top:322.6px;width:13.0px;height:4.8px;background:linear-gradient(90deg,#c8cbcf 0 30%,#3a3c40 30% 70%,#c8cbcf 70%);border-radius:1px"></div>
<div style="left:826.6px;top:286.0px;width:6.3px;height:6.0px;background:linear-gradient(90deg,#c8cbcf 0 30%,#3a3c40 30% 70%,#c8cbcf 70%);border-radius:1px"></div>
<div style="left:834.1px;top:286.0px;width:6.3px;height:6.0px;background:linear-gradient(90deg,#c8cbcf 0 30%,#3a3c40 30% 70%,#c8cbcf 70%);border-radius:1px"></div>
<div style="left:826.6px;top:296.0px;width:5.8px;height:6.0px;background:linear-gradient(#c8cbcf 0 30%,#3a3c40 30% 70%,#c8cbcf 70%);border-radius:1px"></div>
<div style="left:833.6px;top:296.0px;width:5.8px;height:6.0px;background:linear-gradient(#c8cbcf 0 30%,#3a3c40 30% 70%,#c8cbcf 70%);border-radius:1px"></div>
<span class="sm" style="left:777.0px;top:291.2px;font-size:5.6px;color:#c3c6ca;font-weight:bold;opacity:0.55">R21</span>
<span class="sm" style="left:822.0px;top:276.2px;font-size:6.5px;color:#c3c6ca;font-weight:bold;opacity:0.55">R21</span>
<div style="left:852.6px;top:286.0px;width:5.8px;height:6.0px;background:linear-gradient(#c8cbcf 0 30%,#3a3c40 30% 70%,#c8cbcf 70%);border-radius:1px"></div>
<div style="left:859.6px;top:286.0px;width:5.8px;height:6.0px;background:linear-gradient(#c8cbcf 0 30%,#3a3c40 30% 70%,#c8cbcf 70%);border-radius:1px"></div>
<div style="left:840.0px;top:300.6px;width:12.0px;height:4.8px;background:linear-gradient(90deg,#c8cbcf 0 30%,#3a3c40 30% 70%,#c8cbcf 70%);border-radius:1px"></div>
<div style="left:840.0px;top:306.6px;width:12.0px;height:4.8px;background:linear-gradient(90deg,#c8cbcf 0 30%,#3a3c40 30% 70%,#c8cbcf 70%);border-radius:1px"></div>
<div style="left:849.0px;top:324.0px;width:15.0px;height:17.0px;background:#34373c;border-radius:1px;"></div>
<div style="left:846.0px;top:325.0px;width:3px;height:15.0px;background:repeating-linear-gradient(#c8cbcf 0 2.20px,transparent 2.20px 4.00px)"></div>
<div style="left:864.0px;top:325.0px;width:3px;height:15.0px;background:repeating-linear-gradient(#c8cbcf 0 2.20px,transparent 2.20px 4.00px)"></div>
<div style="left:855.0px;top:316.0px;width:11.0px;height:5.0px;background:linear-gradient(90deg,#c9ccd0 0 30%,#3a3c40 30% 70%,#c9ccd0 70%);border-radius:1px"></div>
<div style="left:848.0px;top:262.6px;width:18.0px;height:7.8px;background:linear-gradient(90deg,#c8cbcf 0 30%,#3a3c40 30% 70%,#c8cbcf 70%);border-radius:1px"></div>
<div style="left:848.0px;top:271.6px;width:18.0px;height:7.8px;background:linear-gradient(90deg,#c8cbcf 0 30%,#3a3c40 30% 70%,#c8cbcf 70%);border-radius:1px"></div>
<div style="left:762.0px;top:391.1px;width:10.4px;height:6.7px;background:linear-gradient(90deg,#c8cbcf 0 30%,#3a3c40 30% 70%,#c8cbcf 70%);border-radius:1px"></div>
<div style="left:762.0px;top:399.1px;width:10.4px;height:6.7px;background:linear-gradient(90deg,#c8cbcf 0 30%,#3a3c40 30% 70%,#c8cbcf 70%);border-radius:1px"></div>
<div style="left:762.0px;top:407.0px;width:10.4px;height:6.8px;background:linear-gradient(90deg,#c8cbcf 0 30%,#3a3c40 30% 70%,#c8cbcf 70%);border-radius:1px"></div>
<div style="left:762.0px;top:415.0px;width:10.4px;height:6.7px;background:linear-gradient(90deg,#c8cbcf 0 30%,#3a3c40 30% 70%,#c8cbcf 70%);border-radius:1px"></div>
<div style="left:762.0px;top:422.9px;width:10.4px;height:6.7px;background:linear-gradient(90deg,#c8cbcf 0 30%,#3a3c40 30% 70%,#c8cbcf 70%);border-radius:1px"></div>
<div style="left:762.0px;top:430.9px;width:10.4px;height:6.7px;background:linear-gradient(90deg,#c8cbcf 0 30%,#3a3c40 30% 70%,#c8cbcf 70%);border-radius:1px"></div>
<div style="left:762.0px;top:438.8px;width:10.4px;height:6.7px;background:linear-gradient(90deg,#c8cbcf 0 30%,#3a3c40 30% 70%,#c8cbcf 70%);border-radius:1px"></div>
<div style="left:762.0px;top:446.8px;width:10.4px;height:6.8px;background:linear-gradient(90deg,#c8cbcf 0 30%,#3a3c40 30% 70%,#c8cbcf 70%);border-radius:1px"></div>
<div style="left:762.0px;top:454.7px;width:10.4px;height:6.7px;background:linear-gradient(90deg,#c8cbcf 0 30%,#3a3c40 30% 70%,#c8cbcf 70%);border-radius:1px"></div>
<div style="left:762.0px;top:462.7px;width:10.4px;height:6.7px;background:linear-gradient(90deg,#c8cbcf 0 30%,#3a3c40 30% 70%,#c8cbcf 70%);border-radius:1px"></div>
<div style="left:772.4px;top:398.4px;width:9.6px;height:4.4px;background:linear-gradient(90deg,#c8cbcf 0 30%,#3a3c40 30% 70%,#c8cbcf 70%);border-radius:1px"></div>
<div style="left:772.4px;top:404.0px;width:9.6px;height:4.4px;background:linear-gradient(90deg,#c8cbcf 0 30%,#3a3c40 30% 70%,#c8cbcf 70%);border-radius:1px"></div>
<span class="sm" style="left:750.0px;top:391.0px;font-size:6.0px;color:#c3c6ca;font-weight:bold;opacity:0.27999999999999997">R02</span>
<span class="sm" style="left:750.0px;top:398.5px;font-size:6.0px;color:#c3c6ca;font-weight:bold;opacity:0.27999999999999997">R72</span>
<span class="sm" style="left:750.0px;top:406.0px;font-size:6.0px;color:#c3c6ca;font-weight:bold;opacity:0.27999999999999997">R42</span>
<span class="sm" style="left:750.0px;top:413.5px;font-size:6.0px;color:#c3c6ca;font-weight:bold;opacity:0.27999999999999997">R12</span>
<span class="sm" style="left:750.0px;top:421.0px;font-size:6.0px;color:#c3c6ca;font-weight:bold;opacity:0.27999999999999997">R82</span>
<span class="sm" style="left:750.0px;top:428.5px;font-size:6.0px;color:#c3c6ca;font-weight:bold;opacity:0.27999999999999997">R52</span>
<span class="sm" style="left:750.0px;top:436.0px;font-size:6.0px;color:#c3c6ca;font-weight:bold;opacity:0.27999999999999997">R22</span>
<span class="sm" style="left:750.0px;top:443.5px;font-size:6.0px;color:#c3c6ca;font-weight:bold;opacity:0.27999999999999997">R92</span>
<span class="sm" style="left:750.0px;top:451.0px;font-size:6.0px;color:#c3c6ca;font-weight:bold;opacity:0.27999999999999997">R62</span>
<span class="sm" style="left:750.0px;top:458.5px;font-size:6.0px;color:#c3c6ca;font-weight:bold;opacity:0.27999999999999997">R32</span>
<div style="left:832.3px;top:387.3px;width:18.5px;height:182.1px;background:#15181c;border:1px solid #9a9da1;box-sizing:border-box;"></div>
<div style="left:836px;top:392.3px;width:14px;height:4.4px;border-radius:50%;background:radial-gradient(ellipse at 50% 50%,#f4f4f4 0 22%,#8a96a6 40%,#3d4756 80%)"></div>
<div style="left:836px;top:399.0px;width:14px;height:4.4px;border-radius:50%;background:radial-gradient(ellipse at 50% 50%,#f4f4f4 0 22%,#8a96a6 40%,#3d4756 80%)"></div>
<div style="left:836px;top:405.7px;width:14px;height:4.4px;border-radius:50%;background:radial-gradient(ellipse at 50% 50%,#f4f4f4 0 22%,#8a96a6 40%,#3d4756 80%)"></div>
<div style="left:836px;top:412.4px;width:14px;height:4.4px;border-radius:50%;background:radial-gradient(ellipse at 50% 50%,#f4f4f4 0 22%,#8a96a6 40%,#3d4756 80%)"></div>
<div style="left:836px;top:419.1px;width:14px;height:4.4px;border-radius:50%;background:radial-gradient(ellipse at 50% 50%,#f4f4f4 0 22%,#8a96a6 40%,#3d4756 80%)"></div>
<div style="left:836px;top:425.8px;width:14px;height:4.4px;border-radius:50%;background:radial-gradient(ellipse at 50% 50%,#f4f4f4 0 22%,#8a96a6 40%,#3d4756 80%)"></div>
<div style="left:836px;top:432.5px;width:14px;height:4.4px;border-radius:50%;background:radial-gradient(ellipse at 50% 50%,#f4f4f4 0 22%,#8a96a6 40%,#3d4756 80%)"></div>
<div style="left:836px;top:439.2px;width:14px;height:4.4px;border-radius:50%;background:radial-gradient(ellipse at 50% 50%,#f4f4f4 0 22%,#8a96a6 40%,#3d4756 80%)"></div>
<div style="left:836px;top:445.9px;width:14px;height:4.4px;border-radius:50%;background:radial-gradient(ellipse at 50% 50%,#f4f4f4 0 22%,#8a96a6 40%,#3d4756 80%)"></div>
<div style="left:836px;top:452.6px;width:14px;height:4.4px;border-radius:50%;background:radial-gradient(ellipse at 50% 50%,#f4f4f4 0 22%,#8a96a6 40%,#3d4756 80%)"></div>
<div style="left:836px;top:459.3px;width:14px;height:4.4px;border-radius:50%;background:radial-gradient(ellipse at 50% 50%,#f4f4f4 0 22%,#8a96a6 40%,#3d4756 80%)"></div>
<div style="left:836px;top:466.0px;width:14px;height:4.4px;border-radius:50%;background:radial-gradient(ellipse at 50% 50%,#f4f4f4 0 22%,#8a96a6 40%,#3d4756 80%)"></div>
<div style="left:836px;top:472.7px;width:14px;height:4.4px;border-radius:50%;background:radial-gradient(ellipse at 50% 50%,#f4f4f4 0 22%,#8a96a6 40%,#3d4756 80%)"></div>
<div style="left:836px;top:479.4px;width:14px;height:4.4px;border-radius:50%;background:radial-gradient(ellipse at 50% 50%,#f4f4f4 0 22%,#8a96a6 40%,#3d4756 80%)"></div>
<div style="left:836px;top:486.1px;width:14px;height:4.4px;border-radius:50%;background:radial-gradient(ellipse at 50% 50%,#f4f4f4 0 22%,#8a96a6 40%,#3d4756 80%)"></div>
<div style="left:836px;top:492.8px;width:14px;height:4.4px;border-radius:50%;background:radial-gradient(ellipse at 50% 50%,#f4f4f4 0 22%,#8a96a6 40%,#3d4756 80%)"></div>
<div style="left:836px;top:499.5px;width:14px;height:4.4px;border-radius:50%;background:radial-gradient(ellipse at 50% 50%,#f4f4f4 0 22%,#8a96a6 40%,#3d4756 80%)"></div>
<div style="left:836px;top:506.2px;width:14px;height:4.4px;border-radius:50%;background:radial-gradient(ellipse at 50% 50%,#f4f4f4 0 22%,#8a96a6 40%,#3d4756 80%)"></div>
<div style="left:836px;top:512.9px;width:14px;height:4.4px;border-radius:50%;background:radial-gradient(ellipse at 50% 50%,#f4f4f4 0 22%,#8a96a6 40%,#3d4756 80%)"></div>
<div style="left:836px;top:519.6px;width:14px;height:4.4px;border-radius:50%;background:radial-gradient(ellipse at 50% 50%,#f4f4f4 0 22%,#8a96a6 40%,#3d4756 80%)"></div>
<div style="left:836px;top:526.3px;width:14px;height:4.4px;border-radius:50%;background:radial-gradient(ellipse at 50% 50%,#f4f4f4 0 22%,#8a96a6 40%,#3d4756 80%)"></div>
<div style="left:836px;top:533.0px;width:14px;height:4.4px;border-radius:50%;background:radial-gradient(ellipse at 50% 50%,#f4f4f4 0 22%,#8a96a6 40%,#3d4756 80%)"></div>
<div style="left:836px;top:539.7px;width:14px;height:4.4px;border-radius:50%;background:radial-gradient(ellipse at 50% 50%,#f4f4f4 0 22%,#8a96a6 40%,#3d4756 80%)"></div>
<div style="left:836px;top:546.4px;width:14px;height:4.4px;border-radius:50%;background:radial-gradient(ellipse at 50% 50%,#f4f4f4 0 22%,#8a96a6 40%,#3d4756 80%)"></div>
<div style="left:836px;top:553.1px;width:14px;height:4.4px;border-radius:50%;background:radial-gradient(ellipse at 50% 50%,#f4f4f4 0 22%,#8a96a6 40%,#3d4756 80%)"></div>
<div style="left:836px;top:559.8px;width:14px;height:4.4px;border-radius:50%;background:radial-gradient(ellipse at 50% 50%,#f4f4f4 0 22%,#8a96a6 40%,#3d4756 80%)"></div>
<div style="left:867.0px;top:396.7px;width:9.4px;height:5.3px;background:linear-gradient(90deg,#c8cbcf 0 30%,#3a3c40 30% 70%,#c8cbcf 70%);border-radius:1px"></div>
<span class="sm" style="left:864.0px;top:545.2px;font-size:6.5px;color:#c3c6ca;font-weight:bold;opacity:0.55">R21</span>
<span class="sm" style="left:860.0px;top:429.8px;font-size:6.5px;color:#c3c6ca;font-weight:bold;opacity:0.55">R21</span>
<div style="left:866.0px;top:496.6px;width:12.0px;height:6.8px;background:linear-gradient(90deg,#c8cbcf 0 30%,#3a3c40 30% 70%,#c8cbcf 70%);border-radius:1px"></div>
<div style="left:866.0px;top:504.6px;width:12.0px;height:6.8px;background:linear-gradient(90deg,#c8cbcf 0 30%,#3a3c40 30% 70%,#c8cbcf 70%);border-radius:1px"></div>
<div style="left:866.0px;top:512.6px;width:12.0px;height:6.8px;background:linear-gradient(90deg,#c8cbcf 0 30%,#3a3c40 30% 70%,#c8cbcf 70%);border-radius:1px"></div>
<div style="left:868.6px;top:528.0px;width:11.8px;height:8.0px;background:linear-gradient(90deg,#c8cbcf 0 30%,#3a3c40 30% 70%,#c8cbcf 70%);border-radius:1px"></div>
<div style="left:301.0px;top:594.0px;width:13.0px;height:16.0px;background:#2b2e33;border-radius:1px;"></div>
<div style="left:297.5px;top:595.0px;width:3.5px;height:14.0px;background:repeating-linear-gradient(#c6c9cd 0 2.31px,transparent 2.31px 4.20px)"></div>
<div style="left:314.0px;top:595.0px;width:3.5px;height:14.0px;background:repeating-linear-gradient(#c6c9cd 0 2.31px,transparent 2.31px 4.20px)"></div>
<div style="left:287.0px;top:613.0px;width:37.0px;height:26.0px;background:linear-gradient(90deg,#8f9195,#c9cbce 50%,#8f9195);border:1px solid #d8dadc;box-sizing:border-box;border-radius:2px;"></div>
<div style="left:295.0px;top:615.5px;width:21px;height:21px;border-radius:50%;border:2.5px solid #6a6d72;background:#3a3d42;box-sizing:border-box"></div>
<div style="left:303.0px;top:620.0px;width:6.0px;height:4.0px;background:rgba(200,200,200,.35);border-radius:1px;"></div>
<div style="left:325.6px;top:585.3px;width:11.7px;height:8.1px;background:linear-gradient(90deg,#c8cbcf 0 30%,#3a3c40 30% 70%,#c8cbcf 70%);border-radius:1px"></div>
<div style="left:325.6px;top:594.6px;width:11.7px;height:8.1px;background:linear-gradient(90deg,#c8cbcf 0 30%,#3a3c40 30% 70%,#c8cbcf 70%);border-radius:1px"></div>
<div style="left:325.6px;top:603.9px;width:11.7px;height:8.1px;background:linear-gradient(90deg,#c8cbcf 0 30%,#3a3c40 30% 70%,#c8cbcf 70%);border-radius:1px"></div>
<div style="left:325.6px;top:613.3px;width:11.7px;height:8.1px;background:linear-gradient(90deg,#c8cbcf 0 30%,#3a3c40 30% 70%,#c8cbcf 70%);border-radius:1px"></div>
<div style="left:325.6px;top:622.6px;width:11.7px;height:8.1px;background:linear-gradient(90deg,#c8cbcf 0 30%,#3a3c40 30% 70%,#c8cbcf 70%);border-radius:1px"></div>
<div style="left:325.6px;top:631.9px;width:11.7px;height:8.1px;background:linear-gradient(90deg,#c8cbcf 0 30%,#3a3c40 30% 70%,#c8cbcf 70%);border-radius:1px"></div>
<div style="left:279.4px;top:590.0px;width:6.6px;height:13.0px;background:linear-gradient(#c8cbcf 0 30%,#3a3c40 30% 70%,#c8cbcf 70%);border-radius:1px"></div>
<div style="left:287.2px;top:590.0px;width:6.6px;height:13.0px;background:linear-gradient(#c8cbcf 0 30%,#3a3c40 30% 70%,#c8cbcf 70%);border-radius:1px"></div>
<div style="left:297.0px;top:587.0px;width:13.0px;height:7.0px;background:linear-gradient(90deg,#c8cbcf 0 30%,#3a3c40 30% 70%,#c8cbcf 70%);border-radius:1px"></div>
<span class="sm" style="left:338.0px;top:586.0px;font-size:6.0px;color:#c3c6ca;font-weight:bold;opacity:0.27999999999999997">R02</span>
<span class="sm" style="left:338.0px;top:593.5px;font-size:6.0px;color:#c3c6ca;font-weight:bold;opacity:0.27999999999999997">R72</span>
<span class="sm" style="left:338.0px;top:601.0px;font-size:6.0px;color:#c3c6ca;font-weight:bold;opacity:0.27999999999999997">R42</span>
<span class="sm" style="left:338.0px;top:608.5px;font-size:6.0px;color:#c3c6ca;font-weight:bold;opacity:0.27999999999999997">R12</span>
<span class="sm" style="left:338.0px;top:616.0px;font-size:6.0px;color:#c3c6ca;font-weight:bold;opacity:0.27999999999999997">R82</span>
<span class="sm" style="left:338.0px;top:623.5px;font-size:6.0px;color:#c3c6ca;font-weight:bold;opacity:0.27999999999999997">R52</span>
<span class="sm" style="left:338.0px;top:631.0px;font-size:6.0px;color:#c3c6ca;font-weight:bold;opacity:0.27999999999999997">R22</span>
<div style="left:370.0px;top:651.6px;width:23.0px;height:4.8px;background:linear-gradient(90deg,#c8cbcf 0 30%,#3a3c40 30% 70%,#c8cbcf 70%);border-radius:1px"></div>
<div style="left:370.0px;top:657.6px;width:23.0px;height:4.8px;background:linear-gradient(90deg,#c8cbcf 0 30%,#3a3c40 30% 70%,#c8cbcf 70%);border-radius:1px"></div>
<div style="left:370.0px;top:663.6px;width:23.0px;height:4.8px;background:linear-gradient(90deg,#c8cbcf 0 30%,#3a3c40 30% 70%,#c8cbcf 70%);border-radius:1px"></div>
<div style="left:397.0px;top:651.6px;width:12.0px;height:4.8px;background:linear-gradient(90deg,#c8cbcf 0 30%,#3a3c40 30% 70%,#c8cbcf 70%);border-radius:1px"></div>
<div style="left:397.0px;top:657.6px;width:12.0px;height:4.8px;background:linear-gradient(90deg,#c8cbcf 0 30%,#3a3c40 30% 70%,#c8cbcf 70%);border-radius:1px"></div>
<div style="left:397.0px;top:663.6px;width:12.0px;height:4.8px;background:linear-gradient(90deg,#c8cbcf 0 30%,#3a3c40 30% 70%,#c8cbcf 70%);border-radius:1px"></div>
<span class="sm" style="left:372.0px;top:639.8px;font-size:6.5px;color:#c3c6ca;font-weight:bold;opacity:0.32000000000000006">R21C0R21</span>
<span class="sm" style="left:411.0px;top:651.0px;font-size:6.0px;color:#c3c6ca;font-weight:bold;opacity:0.27999999999999997">R02</span>
<span class="sm" style="left:411.0px;top:658.5px;font-size:6.0px;color:#c3c6ca;font-weight:bold;opacity:0.27999999999999997">R72</span>
<span class="sm" style="left:260.6px;top:658.8px;font-size:7px;color:#d8dadd;font-weight:bold;transform:translate(-50%,-50%) rotate(0deg) scaleX(1.0)">3G/4G Model</span>
<div style="left:438.6px;top:680.0px;width:6.8px;height:8.0px;background:linear-gradient(#c9cbce 0 30%,#3a3c40 30% 70%,#c9cbce 70%);border-radius:1px"></div>
<div style="left:446.6px;top:680.0px;width:6.8px;height:8.0px;background:linear-gradient(#c9cbce 0 30%,#3a3c40 30% 70%,#c9cbce 70%);border-radius:1px"></div>
<div style="left:454.6px;top:680.0px;width:6.8px;height:8.0px;background:linear-gradient(#c9cbce 0 30%,#3a3c40 30% 70%,#c9cbce 70%);border-radius:1px"></div>
<div style="left:462.6px;top:680.0px;width:6.8px;height:8.0px;background:linear-gradient(#c9cbce 0 30%,#3a3c40 30% 70%,#c9cbce 70%);border-radius:1px"></div>
<div style="left:470.6px;top:680.0px;width:6.8px;height:8.0px;background:linear-gradient(#c9cbce 0 30%,#3a3c40 30% 70%,#c9cbce 70%);border-radius:1px"></div>
<div style="left:478.6px;top:680.0px;width:6.8px;height:8.0px;background:linear-gradient(#c9cbce 0 30%,#3a3c40 30% 70%,#c9cbce 70%);border-radius:1px"></div>
<div style="left:486.6px;top:680.0px;width:6.8px;height:8.0px;background:linear-gradient(#c9cbce 0 30%,#3a3c40 30% 70%,#c9cbce 70%);border-radius:1px"></div>
<div style="left:436.6px;top:693.0px;width:7.4px;height:9.0px;background:linear-gradient(#b9bbbe 0 30%,#3a3c40 30% 70%,#b9bbbe 70%);border-radius:1px"></div>
<div style="left:445.2px;top:693.0px;width:7.4px;height:9.0px;background:linear-gradient(#b9bbbe 0 30%,#3a3c40 30% 70%,#b9bbbe 70%);border-radius:1px"></div>
<div style="left:453.7px;top:693.0px;width:7.4px;height:9.0px;background:linear-gradient(#b9bbbe 0 30%,#3a3c40 30% 70%,#b9bbbe 70%);border-radius:1px"></div>
<div style="left:462.3px;top:693.0px;width:7.4px;height:9.0px;background:linear-gradient(#b9bbbe 0 30%,#3a3c40 30% 70%,#b9bbbe 70%);border-radius:1px"></div>
<div style="left:470.9px;top:693.0px;width:7.4px;height:9.0px;background:linear-gradient(#b9bbbe 0 30%,#3a3c40 30% 70%,#b9bbbe 70%);border-radius:1px"></div>
<div style="left:479.5px;top:693.0px;width:7.4px;height:9.0px;background:linear-gradient(#b9bbbe 0 30%,#3a3c40 30% 70%,#b9bbbe 70%);border-radius:1px"></div>
<div style="left:488.0px;top:693.0px;width:7.4px;height:9.0px;background:linear-gradient(#b9bbbe 0 30%,#3a3c40 30% 70%,#b9bbbe 70%);border-radius:1px"></div>
<span class="sm" style="left:418px;top:669px;font-size:9px;color:#e0e0e0;font-weight:bold;transform:translate(-50%,-50%) rotate(0deg) scaleX(1.0)">SIM</span>
<span class="sm" style="left:478px;top:708px;font-size:9px;color:#e0e0e0;font-weight:bold;transform:translate(-50%,-50%) rotate(0deg) scaleX(1.0)">TF</span>
<div style="left:638.6px;top:598.0px;width:6.1px;height:10.0px;background:linear-gradient(#c8cbcf 0 30%,#3a3c40 30% 70%,#c8cbcf 70%);border-radius:1px"></div>
<div style="left:645.9px;top:598.0px;width:6.1px;height:10.0px;background:linear-gradient(#c8cbcf 0 30%,#3a3c40 30% 70%,#c8cbcf 70%);border-radius:1px"></div>
<div style="left:653.3px;top:598.0px;width:6.1px;height:10.0px;background:linear-gradient(#c8cbcf 0 30%,#3a3c40 30% 70%,#c8cbcf 70%);border-radius:1px"></div>
<div style="left:640.6px;top:624.0px;width:7.1px;height:8.0px;background:linear-gradient(#c8cbcf 0 30%,#3a3c40 30% 70%,#c8cbcf 70%);border-radius:1px"></div>
<div style="left:648.9px;top:624.0px;width:7.1px;height:8.0px;background:linear-gradient(#c8cbcf 0 30%,#3a3c40 30% 70%,#c8cbcf 70%);border-radius:1px"></div>
<div style="left:657.3px;top:624.0px;width:7.1px;height:8.0px;background:linear-gradient(#c8cbcf 0 30%,#3a3c40 30% 70%,#c8cbcf 70%);border-radius:1px"></div>
<div style="left:839.2px;top:589.0px;width:7.9px;height:12.0px;background:linear-gradient(#c8cbcf 0 30%,#3a3c40 30% 70%,#c8cbcf 70%);border-radius:1px"></div>
<div style="left:848.3px;top:589.0px;width:7.9px;height:12.0px;background:linear-gradient(#c8cbcf 0 30%,#3a3c40 30% 70%,#c8cbcf 70%);border-radius:1px"></div>
<div style="left:857.5px;top:589.0px;width:7.9px;height:12.0px;background:linear-gradient(#c8cbcf 0 30%,#3a3c40 30% 70%,#c8cbcf 70%);border-radius:1px"></div>
<div style="left:749.6px;top:630.0px;width:5.3px;height:19.0px;background:linear-gradient(#c8cbcf 0 30%,#3a3c40 30% 70%,#c8cbcf 70%);border-radius:1px"></div>
<div style="left:756.1px;top:630.0px;width:5.3px;height:19.0px;background:linear-gradient(#c8cbcf 0 30%,#3a3c40 30% 70%,#c8cbcf 70%);border-radius:1px"></div>
<div style="left:762.6px;top:630.0px;width:5.3px;height:19.0px;background:linear-gradient(#c8cbcf 0 30%,#3a3c40 30% 70%,#c8cbcf 70%);border-radius:1px"></div>
<div style="left:769.1px;top:630.0px;width:5.3px;height:19.0px;background:linear-gradient(#c8cbcf 0 30%,#3a3c40 30% 70%,#c8cbcf 70%);border-radius:1px"></div>
<div style="left:775.6px;top:630.0px;width:5.3px;height:19.0px;background:linear-gradient(#c8cbcf 0 30%,#3a3c40 30% 70%,#c8cbcf 70%);border-radius:1px"></div>
<div style="left:782.1px;top:630.0px;width:5.3px;height:19.0px;background:linear-gradient(#c8cbcf 0 30%,#3a3c40 30% 70%,#c8cbcf 70%);border-radius:1px"></div>
<span class="sm" style="left:760.0px;top:618.8px;font-size:6.5px;color:#c3c6ca;font-weight:bold;opacity:0.32000000000000006">R21C0R2</span>
<span class="sm" style="left:554px;top:656px;font-size:8px;color:#d8dadd;font-weight:bold;transform:translate(-50%,-50%) rotate(0deg) scaleX(1.0)">Model</span>
<div style="left:152.0px;top:662.0px;width:154.0px;height:96.8px;background:linear-gradient(90deg,#2a6e35,#2f7639 50%,#23632e);border-top:2px solid #6fae78;box-sizing:border-box;"></div>
<div style="left:152.0px;top:662.0px;width:17.6px;height:17.6px;background:#a88d58;"></div>
<div style="left:152.0px;top:741.0px;width:17.6px;height:17.8px;background:#a88d58;"></div>
<div style="left:155.8px;top:665.8px;width:10px;height:10px;border-radius:50%;border:2px solid #d0c9b0;background:#f2f2f2;box-sizing:border-box"></div>
<div style="left:155.8px;top:745.0px;width:10px;height:10px;border-radius:50%;border:2px solid #d0c9b0;background:#f2f2f2;box-sizing:border-box"></div>
<div style="left:153.5px;top:686.4px;width:8px;height:8px;border-radius:50%;border:2px solid #c9b98a;background:#3a5a40;box-sizing:border-box"></div>
<div style="left:153.5px;top:707.4px;width:8px;height:8px;border-radius:50%;border:2px solid #c9b98a;background:#3a5a40;box-sizing:border-box"></div>
<div style="left:153.5px;top:727.7px;width:8px;height:8px;border-radius:50%;border:2px solid #c9b98a;background:#3a5a40;box-sizing:border-box"></div>
<div style="left:174.0px;top:668.0px;width:4.0px;height:86.0px;background:repeating-linear-gradient(#bfc6c0 0 1.5px,transparent 1.5px 3.2px);"></div>
<div style="left:282.0px;top:668.0px;width:4.0px;height:86.0px;background:repeating-linear-gradient(#bfc6c0 0 1.5px,transparent 1.5px 3.2px);"></div>
<div style="left:179.5px;top:666.4px;width:100.1px;height:89.1px;background:linear-gradient(#e4e5e7,#d6d7d9);border-radius:4px;"></div>
<svg style="position:absolute;left:192.7px;top:670.8px" width="25.3" height="25.2" viewBox="0 0 13 13"><g fill="#1e1e1e"><rect x="0" y="0" width="1" height="1"/><rect x="0" y="1" width="1" height="1"/><rect x="0" y="2" width="1" height="1"/><rect x="0" y="3" width="1" height="1"/><rect x="0" y="5" width="1" height="1"/><rect x="0" y="6" width="1" height="1"/><rect x="0" y="8" width="1" height="1"/><rect x="0" y="9" width="1" height="1"/><rect x="0" y="10" width="1" height="1"/><rect x="0" y="11" width="1" height="1"/><rect x="0" y="12" width="1" height="1"/><rect x="1" y="0" width="1" height="1"/><rect x="1" y="1" width="1" height="1"/><rect x="1" y="2" width="1" height="1"/><rect x="1" y="6" width="1" height="1"/><rect x="1" y="8" width="1" height="1"/><rect x="1" y="10" width="1" height="1"/><rect x="1" y="11" width="1" height="1"/><rect x="1" y="12" width="1" height="1"/><rect x="2" y="0" width="1" height="1"/><rect x="2" y="1" width="1" height="1"/><rect x="2" y="2" width="1" height="1"/><rect x="2" y="5" width="1" height="1"/><rect x="2" y="7" width="1" height="1"/><rect x="2" y="8" width="1" height="1"/><rect x="2" y="9" width="1" height="1"/><rect x="2" y="10" width="1" height="1"/><rect x="2" y="11" width="1" height="1"/><rect x="2" y="12" width="1" height="1"/><rect x="3" y="1" width="1" height="1"/><rect x="3" y="2" width="1" height="1"/><rect x="3" y="5" width="1" height="1"/><rect x="3" y="10" width="1" height="1"/><rect x="3" y="12" width="1" height="1"/><rect x="4" y="0" width="1" height="1"/><rect x="4" y="2" width="1" height="1"/><rect x="4" y="3" width="1" height="1"/><rect x="4" y="4" width="1" height="1"/><rect x="4" y="9" width="1" height="1"/><rect x="5" y="0" width="1" height="1"/><rect x="5" y="3" width="1" height="1"/><rect x="5" y="5" width="1" height="1"/><rect x="5" y="10" width="1" height="1"/><rect x="5" y="11" width="1" height="1"/><rect x="6" y="0" width="1" height="1"/><rect x="6" y="1" width="1" height="1"/><rect x="6" y="2" width="1" height="1"/><rect x="6" y="3" width="1" height="1"/><rect x="6" y="4" width="1" height="1"/><rect x="6" y="6" width="1" height="1"/><rect x="6" y="7" width="1" height="1"/><rect x="6" y="8" width="1" height="1"/><rect x="6" y="10" width="1" height="1"/><rect x="6" y="11" width="1" height="1"/><rect x="7" y="3" width="1" height="1"/><rect x="7" y="4" width="1" height="1"/><rect x="7" y="5" width="1" height="1"/><rect x="7" y="8" width="1" height="1"/><rect x="7" y="9" width="1" height="1"/><rect x="7" y="10" width="1" height="1"/><rect x="7" y="11" width="1" height="1"/><rect x="7" y="12" width="1" height="1"/><rect x="8" y="1" width="1" height="1"/><rect x="8" y="2" width="1" height="1"/><rect x="8" y="3" width="1" height="1"/><rect x="8" y="4" width="1" height="1"/><rect x="8" y="11" width="1" height="1"/><rect x="9" y="3" width="1" height="1"/><rect x="9" y="4" width="1" height="1"/><rect x="9" y="5" width="1" height="1"/><rect x="9" y="7" width="1" height="1"/><rect x="9" y="8" width="1" height="1"/><rect x="9" y="9" width="1" height="1"/><rect x="9" y="10" width="1" height="1"/><rect x="9" y="11" width="1" height="1"/><rect x="9" y="12" width="1" height="1"/><rect x="10" y="0" width="1" height="1"/><rect x="10" y="1" width="1" height="1"/><rect x="10" y="2" width="1" height="1"/><rect x="10" y="3" width="1" height="1"/><rect x="10" y="4" width="1" height="1"/><rect x="10" y="7" width="1" height="1"/><rect x="10" y="8" width="1" height="1"/><rect x="10" y="9" width="1" height="1"/><rect x="10" y="10" width="1" height="1"/><rect x="10" y="11" width="1" height="1"/><rect x="11" y="0" width="1" height="1"/><rect x="11" y="1" width="1" height="1"/><rect x="11" y="2" width="1" height="1"/><rect x="11" y="3" width="1" height="1"/><rect x="11" y="4" width="1" height="1"/><rect x="11" y="5" width="1" height="1"/><rect x="11" y="6" width="1" height="1"/><rect x="11" y="8" width="1" height="1"/><rect x="11" y="9" width="1" height="1"/><rect x="11" y="12" width="1" height="1"/><rect x="12" y="0" width="1" height="1"/><rect x="12" y="1" width="1" height="1"/><rect x="12" y="2" width="1" height="1"/><rect x="12" y="6" width="1" height="1"/><rect x="12" y="7" width="1" height="1"/><rect x="12" y="8" width="1" height="1"/><rect x="12" y="12" width="1" height="1"/></g></svg>
<div style="left:190px;top:705px;width:18px;height:12px;border:1px solid #444;border-radius:50%"></div>
<span class="sm" style="left:222.0px;top:676.4px;font-size:4.2px;color:#333;font-weight:bold;opacity:0.55">R21C0R21C0R21C0R21C</span>
<span class="sm" style="left:222.0px;top:683.4px;font-size:4.2px;color:#333;font-weight:bold;opacity:0.55">R21C0R21C0R21C0R21C</span>
<span class="sm" style="left:224.0px;top:690.4px;font-size:4.2px;color:#333;font-weight:bold;opacity:0.55">R21C0R21C0R21C0R21</span>
<span class="sm" style="left:224.0px;top:697.4px;font-size:4.2px;color:#333;font-weight:bold;opacity:0.55">R21C0R21C0R21C0R21</span>
<span class="sm" style="left:228.0px;top:704.4px;font-size:4.2px;color:#333;font-weight:bold;opacity:0.55">R21C0R21C0R21C0R</span>
<span class="lb" style="left:249.5px;top:719.5px;font-size:15px;color:#222;font-weight:normal;transform:scaleX(0.78);transform-origin:0 0">EC20</span>
<span class="sm" style="left:195.0px;top:732.4px;font-size:4.2px;color:#333;font-weight:bold;opacity:0.5">R21C0R21C0R21</span>
<span class="lb" style="left:238px;top:740px;font-size:10px;color:#333;font-weight:bold;transform:translate(-50%,0) rotate(180deg) scaleX(0.95)">QUECTEL</span>
<div style="left:306.0px;top:661.0px;width:32.0px;height:96.7px;background:linear-gradient(90deg,#6f8094,#8a99ab 60%,#7a8a9d);"></div>
<div style="left:306.0px;top:671.0px;width:6.5px;height:84.0px;background:repeating-linear-gradient(#c4955a 0 1.6px,#8a6330 1.6px 3px);"></div>
<div style="left:330.0px;top:663.0px;width:8.0px;height:93.0px;background:repeating-linear-gradient(#c8cbcf 0 1.5px,#6a6d72 1.5px 3px);"></div>
<div style="left:322.0px;top:660.0px;width:16.0px;height:8.0px;background:#c9cbce;"></div>
<div style="left:108.3px;top:711.4px;width:23.1px;height:21.6px;background:#2a2a28;border:1.5px solid #b9b29a;box-sizing:border-box;border-radius:2px;"></div>
<div style="left:107.5px;top:710.5px;width:5px;height:5px;border-radius:50%;border:1px solid #c8b27a;background:#a08850;box-sizing:border-box"></div>
<div style="left:127.0px;top:710.5px;width:5px;height:5px;border-radius:50%;border:1px solid #c8b27a;background:#a08850;box-sizing:border-box"></div>
<div style="left:107.5px;top:728.5px;width:5px;height:5px;border-radius:50%;border:1px solid #c8b27a;background:#a08850;box-sizing:border-box"></div>
<div style="left:127.0px;top:728.5px;width:5px;height:5px;border-radius:50%;border:1px solid #c8b27a;background:#a08850;box-sizing:border-box"></div>
<div style="left:103.4px;top:733.0px;width:21.0px;height:33.0px;background:repeating-linear-gradient(#d8cfa8 0 2px,#8d7a48 2px 3.4px);"></div>
<div style="left:103.4px;top:733.0px;width:21.0px;height:33.0px;background:linear-gradient(90deg,rgba(80,60,20,.45),rgba(255,250,230,.45) 45%,rgba(80,60,20,.45));"></div>
<div style="left:113.3px;top:694.0px;width:11px;height:11px;border-radius:50%;border:3px solid #c9c6bc;background:#a89c78;box-sizing:border-box"></div>
<span class="sm" style="left:132.8px;top:747.8px;font-size:9px;color:#e8e8e8;font-weight:bold;transform:translate(-50%,-50%) rotate(0deg) scaleX(1.0)">3G</span>
<span class="sm" style="left:136px;top:699px;font-size:5.5px;color:#d8dadd;font-weight:bold;transform:translate(-50%,-50%) rotate(0deg) scaleX(1.0)">J53</span>
<span class="sm" style="left:139px;top:722px;font-size:5.5px;color:#d8dadd;font-weight:bold;transform:translate(-50%,-50%) rotate(0deg) scaleX(1.0)">J58</span>
<div style="left:363.0px;top:675.0px;width:62.0px;height:88.0px;background:linear-gradient(#a4a5a8,#b6b7ba 40%,#a9aaad);border-radius:1px;"></div>
<div style="left:365.0px;top:676.0px;width:58.0px;height:7.0px;background:#3b4c6a;"></div>
<div style="left:385.0px;top:680.0px;width:28.0px;height:4.0px;background:repeating-linear-gradient(90deg,#e8e8e8 0 2px,transparent 2px 4.5px);"></div>
<div style="left:384px;top:688px;width:18px;height:7px;background:#4463a0;border-radius:50%"></div>
<div style="left:384.5px;top:729.5px;width:3px;height:3px;background:#444;border-radius:50%"></div>
<div style="left:393.5px;top:729.5px;width:3px;height:3px;background:#444;border-radius:50%"></div>
<div style="left:401.5px;top:729.5px;width:3px;height:3px;background:#444;border-radius:50%"></div>
<div style="left:384.5px;top:752.5px;width:3px;height:3px;background:#444;border-radius:50%"></div>
<div style="left:393.5px;top:752.5px;width:3px;height:3px;background:#444;border-radius:50%"></div>
<div style="left:401.5px;top:752.5px;width:3px;height:3px;background:#444;border-radius:50%"></div>
<div style="left:415.0px;top:731.0px;width:5.0px;height:26.0px;background:#6a6c70;border-radius:2px;"></div>
<div style="left:358.0px;top:745.0px;width:6.0px;height:10.0px;background:#bbb;"></div>
<div style="left:425.0px;top:745.0px;width:6.0px;height:10.0px;background:#bbb;"></div>
<div style="left:441.0px;top:712.0px;width:50.0px;height:47.0px;background:linear-gradient(#b6b7ba,#a6a7aa);"></div>
<div style="left:444.0px;top:710.0px;width:44.0px;height:6.0px;background:#404e68;"></div>
<div style="left:447.0px;top:711.0px;width:38.0px;height:3.0px;background:repeating-linear-gradient(90deg,#e6e6e6 0 2px,transparent 2px 4.2px);"></div>
<div style="left:484.0px;top:740.0px;width:5.0px;height:15.0px;background:#5a6a88;"></div>
<div style="left:436.0px;top:742.0px;width:6.0px;height:10.0px;background:#bbb;"></div>
<div style="left:490.0px;top:742.0px;width:6.0px;height:10.0px;background:#bbb;"></div>
<div style="left:512.5px;top:663.8px;width:187.5px;height:93.8px;background:#121417;border:1.5px solid #5f6267;box-sizing:border-box;border-radius:8px;"></div>
<div style="left:515.5px;top:667.0px;width:11px;height:11px;border-radius:50%;border:2.5px solid #9a9ca0;background:#e8e8e8;box-sizing:border-box"></div>
<div style="left:685.5px;top:667.0px;width:11px;height:11px;border-radius:50%;border:2.5px solid #9a9ca0;background:#e8e8e8;box-sizing:border-box"></div>
<div style="left:515.5px;top:742.0px;width:11px;height:11px;border-radius:50%;border:2.5px solid #9a9ca0;background:#e8e8e8;box-sizing:border-box"></div>
<div style="left:685.5px;top:742.0px;width:11px;height:11px;border-radius:50%;border:2.5px solid #9a9ca0;background:#e8e8e8;box-sizing:border-box"></div>
<div style="left:516px;top:686.0px;width:5px;height:5px;border-radius:50%;background:#8e9196"></div>
<div style="left:686px;top:686.0px;width:5px;height:5px;border-radius:50%;background:#8e9196"></div>
<div style="left:523px;top:686.0px;width:5px;height:5px;border-radius:50%;background:#8e9196"></div>
<div style="left:693px;top:686.0px;width:5px;height:5px;border-radius:50%;background:#8e9196"></div>
<div style="left:516px;top:692.6px;width:5px;height:5px;border-radius:50%;background:#8e9196"></div>
<div style="left:686px;top:692.6px;width:5px;height:5px;border-radius:50%;background:#8e9196"></div>
<div style="left:523px;top:692.6px;width:5px;height:5px;border-radius:50%;background:#8e9196"></div>
<div style="left:693px;top:692.6px;width:5px;height:5px;border-radius:50%;background:#8e9196"></div>
<div style="left:516px;top:699.2px;width:5px;height:5px;border-radius:50%;background:#8e9196"></div>
<div style="left:686px;top:699.2px;width:5px;height:5px;border-radius:50%;background:#8e9196"></div>
<div style="left:523px;top:699.2px;width:5px;height:5px;border-radius:50%;background:#8e9196"></div>
<div style="left:693px;top:699.2px;width:5px;height:5px;border-radius:50%;background:#8e9196"></div>
<div style="left:516px;top:705.8px;width:5px;height:5px;border-radius:50%;background:#8e9196"></div>
<div style="left:686px;top:705.8px;width:5px;height:5px;border-radius:50%;background:#8e9196"></div>
<div style="left:523px;top:705.8px;width:5px;height:5px;border-radius:50%;background:#8e9196"></div>
<div style="left:693px;top:705.8px;width:5px;height:5px;border-radius:50%;background:#8e9196"></div>
<div style="left:516px;top:712.4px;width:5px;height:5px;border-radius:50%;background:#8e9196"></div>
<div style="left:686px;top:712.4px;width:5px;height:5px;border-radius:50%;background:#8e9196"></div>
<div style="left:523px;top:712.4px;width:5px;height:5px;border-radius:50%;background:#8e9196"></div>
<div style="left:693px;top:712.4px;width:5px;height:5px;border-radius:50%;background:#8e9196"></div>
<div style="left:516px;top:719.0px;width:5px;height:5px;border-radius:50%;background:#8e9196"></div>
<div style="left:686px;top:719.0px;width:5px;height:5px;border-radius:50%;background:#8e9196"></div>
<div style="left:523px;top:719.0px;width:5px;height:5px;border-radius:50%;background:#8e9196"></div>
<div style="left:693px;top:719.0px;width:5px;height:5px;border-radius:50%;background:#8e9196"></div>
<div style="left:516px;top:725.6px;width:5px;height:5px;border-radius:50%;background:#8e9196"></div>
<div style="left:686px;top:725.6px;width:5px;height:5px;border-radius:50%;background:#8e9196"></div>
<div style="left:523px;top:725.6px;width:5px;height:5px;border-radius:50%;background:#8e9196"></div>
<div style="left:693px;top:725.6px;width:5px;height:5px;border-radius:50%;background:#8e9196"></div>
<div style="left:516px;top:732.2px;width:5px;height:5px;border-radius:50%;background:#8e9196"></div>
<div style="left:686px;top:732.2px;width:5px;height:5px;border-radius:50%;background:#8e9196"></div>
<div style="left:523px;top:732.2px;width:5px;height:5px;border-radius:50%;background:#8e9196"></div>
<div style="left:693px;top:732.2px;width:5px;height:5px;border-radius:50%;background:#8e9196"></div>
<div style="left:557.0px;top:672.0px;width:56.0px;height:47.0px;background:repeating-linear-gradient(90deg,#3a3d42 0 2px,transparent 2px 4px);"></div>
<div style="left:560.0px;top:675.0px;width:50.0px;height:41.0px;background:linear-gradient(#eceef0,#dcdee0);border-radius:3px;"></div>
<div style="left:570.0px;top:690.0px;width:30.0px;height:10.0px;background:repeating-linear-gradient(90deg,#1e1e1e 0 1.2px,#eee 1.2px 2.6px);"></div>
<span class="sm" style="left:572.0px;top:683.4px;font-size:4.2px;color:#333;font-weight:bold;opacity:0.6">R21C0R21C0</span>
<span class="sm" style="left:570.0px;top:702.4px;font-size:4.2px;color:#333;font-weight:bold;opacity:0.5">R21C0R21C0R2</span>
<div style="left:626.0px;top:671.0px;width:48.0px;height:49.0px;background:#2a3f63;border-radius:2px;"></div>
<div style="left:629.0px;top:674.0px;width:42.0px;height:43.5px;background:#1f2c44;border-radius:2px;"></div>
<div style="left:638.0px;top:684.0px;width:26.0px;height:24.0px;background:#1b1d22;"></div>
<div style="left:630.0px;top:673.0px;width:38.0px;height:3.0px;background:repeating-linear-gradient(90deg,#c9cbcf 0 1.5px,transparent 1.5px 3.5px);"></div>
<div style="left:630.0px;top:717.0px;width:38.0px;height:3.0px;background:repeating-linear-gradient(90deg,#c9cbcf 0 1.5px,transparent 1.5px 3.5px);"></div>
<div style="left:540.0px;top:715.0px;width:30.0px;height:10.0px;background:#2a2c30;border:1px solid #888;box-sizing:border-box;"></div>
<div style="left:544.0px;top:715.0px;width:22.0px;height:49.0px;background:linear-gradient(90deg,#7d6a38,#e6d295 45%,#8a7440);"></div>
<div style="left:544.0px;top:735.0px;width:22.0px;height:29.0px;background:repeating-linear-gradient(rgba(60,40,0,.25) 0 1.5px,transparent 1.5px 3px);"></div>
<div style="left:578.6px;top:722.0px;width:6.1px;height:8.0px;background:linear-gradient(#c8cbcf 0 30%,#3a3c40 30% 70%,#c8cbcf 70%);border-radius:1px"></div>
<div style="left:585.9px;top:722.0px;width:6.1px;height:8.0px;background:linear-gradient(#c8cbcf 0 30%,#3a3c40 30% 70%,#c8cbcf 70%);border-radius:1px"></div>
<div style="left:593.3px;top:722.0px;width:6.1px;height:8.0px;background:linear-gradient(#c8cbcf 0 30%,#3a3c40 30% 70%,#c8cbcf 70%);border-radius:1px"></div>
<div style="left:603.0px;top:727.6px;width:15.0px;height:7.8px;background:linear-gradient(90deg,#c8cbcf 0 30%,#3a3c40 30% 70%,#c8cbcf 70%);border-radius:1px"></div>
<div style="left:603.0px;top:736.6px;width:15.0px;height:7.8px;background:linear-gradient(90deg,#c8cbcf 0 30%,#3a3c40 30% 70%,#c8cbcf 70%);border-radius:1px"></div>
<div style="left:633.0px;top:724.6px;width:20.0px;height:4.1px;background:linear-gradient(90deg,#c8cbcf 0 30%,#3a3c40 30% 70%,#c8cbcf 70%);border-radius:1px"></div>
<div style="left:633.0px;top:729.9px;width:20.0px;height:4.1px;background:linear-gradient(90deg,#c8cbcf 0 30%,#3a3c40 30% 70%,#c8cbcf 70%);border-radius:1px"></div>
<div style="left:633.0px;top:735.3px;width:20.0px;height:4.1px;background:linear-gradient(90deg,#c8cbcf 0 30%,#3a3c40 30% 70%,#c8cbcf 70%);border-radius:1px"></div>
<span class="sm" style="left:600px;top:751.5px;font-size:7px;color:#cfd2d6;font-weight:bold;transform:translate(-50%,-50%) rotate(0deg) scaleX(0.95)">RP-WiFi+BT+GPS</span>
<div style="left:762.3px;top:661.9px;width:19px;height:19px;background:linear-gradient(#bfc0c3,#9a9c9f);border-radius:2px;box-shadow:0 0 0 1px #55575b"></div>
<div style="left:766.3px;top:665.9px;width:11px;height:11px;background:radial-gradient(#5a5c60,#2f3134);border-radius:50%"></div>
<div style="left:735.7px;top:681.5px;width:19px;height:19px;background:linear-gradient(#bfc0c3,#9a9c9f);border-radius:2px;box-shadow:0 0 0 1px #55575b"></div>
<div style="left:739.7px;top:685.5px;width:11px;height:11px;background:radial-gradient(#5a5c60,#2f3134);border-radius:50%"></div>
<div style="left:790.3px;top:681.5px;width:19px;height:19px;background:linear-gradient(#bfc0c3,#9a9c9f);border-radius:2px;box-shadow:0 0 0 1px #55575b"></div>
<div style="left:794.3px;top:685.5px;width:11px;height:11px;background:radial-gradient(#5a5c60,#2f3134);border-radius:50%"></div>
<div style="left:762.3px;top:699.7px;width:19px;height:19px;background:linear-gradient(#bfc0c3,#9a9c9f);border-radius:2px;box-shadow:0 0 0 1px #55575b"></div>
<div style="left:766.3px;top:703.7px;width:11px;height:11px;background:radial-gradient(#5a5c60,#2f3134);border-radius:50%"></div>
<div style="left:837.9px;top:661.9px;width:19px;height:19px;background:linear-gradient(#bfc0c3,#9a9c9f);border-radius:2px;box-shadow:0 0 0 1px #55575b"></div>
<div style="left:841.9px;top:665.9px;width:11px;height:11px;background:radial-gradient(#5a5c60,#2f3134);border-radius:50%"></div>
<div style="left:837.9px;top:699.7px;width:19px;height:19px;background:linear-gradient(#bfc0c3,#9a9c9f);border-radius:2px;box-shadow:0 0 0 1px #55575b"></div>
<div style="left:841.9px;top:703.7px;width:11px;height:11px;background:radial-gradient(#5a5c60,#2f3134);border-radius:50%"></div>
<span class="sm" style="left:863px;top:677px;font-size:9px;color:#e0e0e0;font-weight:bold;transform:translate(-50%,-50%) rotate(0deg) scaleX(1.0)">VO</span>
<span class="sm" style="left:863px;top:714px;font-size:9px;color:#e0e0e0;font-weight:bold;transform:translate(-50%,-50%) rotate(0deg) scaleX(1.0)">VO</span>
<div style="left:721.5px;top:733.0px;width:20.0px;height:24.0px;background:linear-gradient(#c7c8cb,#9d9fa2);border-radius:2px;"></div>
<div style="left:727.5px;top:743px;width:8px;height:8px;border-radius:50%;background:#3b3d41"></div>
<div style="left:756.0px;top:733.0px;width:20.0px;height:24.0px;background:linear-gradient(#c7c8cb,#9d9fa2);border-radius:2px;"></div>
<div style="left:762px;top:743px;width:8px;height:8px;border-radius:50%;background:#3b3d41"></div>
<span class="sm" style="left:734px;top:728px;font-size:7px;color:#d8dadd;font-weight:bold;transform:translate(-50%,-50%) rotate(0deg) scaleX(1.0)">USB</span>
<span class="sm" style="left:770px;top:728px;font-size:7px;color:#d8dadd;font-weight:bold;transform:translate(-50%,-50%) rotate(0deg) scaleX(1.0)">SD</span>
<div style="left:799.8px;top:733.9px;width:25.2px;height:24.3px;background:linear-gradient(#3f79cc,#2a5fae);border-radius:2px;"></div>
<div style="left:842.0px;top:722.0px;width:22.0px;height:38.0px;background:#1e2024;"></div>
<div style="left:845.0px;top:755.0px;width:15.0px;height:15.0px;background:#191a1d;border-radius:0 0 2px 2px;"></div>
<span class="sm" style="left:870px;top:754px;font-size:8px;color:#e0e0e0;font-weight:bold;transform:translate(-50%,-50%) rotate(0deg) scaleX(1.0)">PWR</span>
<span class="lb" style="left:100.71px;top:158.20px;font-size:18.5px;color:#cf6238;font-weight:bold;transform:scaleX(0.8944);transform-origin:0 0">DC-5V</span>
<span class="lb" style="left:186.45px;top:158.20px;font-size:18.5px;color:#cf6238;font-weight:bold;transform:scaleX(0.8467);transform-origin:0 0">UART0</span>
<span class="lb" style="left:316.17px;top:158.50px;font-size:18.5px;color:#cf6238;font-weight:bold;transform:scaleX(0.8262);transform-origin:0 0">UART4</span>
<span class="lb" style="left:407.64px;top:158.50px;font-size:18.5px;color:#cf6238;font-weight:bold;transform:scaleX(0.8581);transform-origin:0 0">Ethernet</span>
<span class="lb" style="left:487.09px;top:158.50px;font-size:18.5px;color:#cf6238;font-weight:bold;transform:scaleX(0.9103);transform-origin:0 0">Mic</span>
<span class="lb" style="left:524.64px;top:158.50px;font-size:18.5px;color:#cf6238;font-weight:bold;transform:scaleX(0.8564);transform-origin:0 0">Phone</span>
<span class="lb" style="left:624.65px;top:159.00px;font-size:18.5px;color:#cf6238;font-weight:bold;transform:scaleX(0.8485);transform-origin:0 0">USB host*5</span>
<span class="lb" style="left:774.04px;top:159.00px;font-size:18.5px;color:#cf6238;font-weight:bold;transform:scaleX(0.9556);transform-origin:0 0">HDMI</span>
<span class="lb" style="left:835.68px;top:159.00px;font-size:18.5px;color:#cf6238;font-weight:bold;transform:scaleX(0.8171);transform-origin:0 0">USB OTG</span>
<span class="lb" style="left:959.22px;top:267.00px;font-size:18.5px;color:#cf6238;font-weight:bold;transform:scaleX(0.7838);transform-origin:0 0">SPK</span>
<span class="lb" style="left:939.16px;top:326.00px;font-size:18.5px;color:#cf6238;font-weight:bold;transform:scaleX(0.8364);transform-origin:0 0">RS485</span>
<span class="lb" style="left:928.14px;top:431.30px;font-size:18.5px;color:#cf6238;font-weight:bold;transform:scaleX(0.8649);transform-origin:0 0">YUV</span>
<span class="lb" style="left:928.14px;top:449.00px;font-size:18.5px;color:#cf6238;font-weight:bold;transform:scaleX(0.8594);transform-origin:0 0">camera</span>
<span class="lb" style="left:928.37px;top:527.60px;font-size:18.5px;color:#cf6238;font-weight:bold;transform:scaleX(0.9257);transform-origin:0 0">Mipi</span>
<span class="lb" style="left:928.14px;top:543.50px;font-size:18.5px;color:#cf6238;font-weight:bold;transform:scaleX(0.8594);transform-origin:0 0">camera</span>
<span class="lb" style="left:950.61px;top:651.00px;font-size:18.5px;color:#cf6238;font-weight:bold;transform:scaleX(0.8875);transform-origin:0 0">Gpio</span>
<span class="lb" style="left:945.15px;top:705.00px;font-size:18.5px;color:#cf6238;font-weight:bold;transform:scaleX(0.8469);transform-origin:0 0">Reset</span>
<span class="lb" style="left:4.14px;top:305.00px;font-size:18.5px;color:#cf6238;font-weight:bold;transform:scaleX(0.8621);transform-origin:0 0">PW</span>
<span class="lb" style="left:4.12px;top:431.80px;font-size:18.5px;color:#cf6238;font-weight:bold;transform:scaleX(0.6809);transform-origin:0 0">LVDS LCD</span>
<span class="lb" style="left:4.02px;top:510.50px;font-size:18.5px;color:#cf6238;font-weight:bold;transform:scaleX(0.7769);transform-origin:0 0">Mipi LCD</span>
<span class="lb" style="left:23.20px;top:720.80px;font-size:18.5px;color:#cf6238;font-weight:bold;transform:scaleX(0.6925);transform-origin:0 0">4G ANT</span>
<span class="lb" style="left:132.70px;top:609.50px;font-size:18.5px;color:#cf6238;font-weight:bold;transform:scaleX(0.7952);transform-origin:0 0">RGB LCD</span>
<span class="lb" style="left:246.00px;top:549.50px;font-size:18.5px;color:#cf6238;font-weight:bold;transform:scaleX(0.8103);transform-origin:0 0">VDD_RTC</span>
<span class="lb" style="left:567.89px;top:383.50px;font-size:18.5px;color:#cf6238;font-weight:bold;transform:scaleX(0.8636);transform-origin:0 0">EMMC</span>
<span class="lb" style="left:573.42px;top:407.75px;font-size:16px;color:#e4e4e4;font-weight:normal;transform:scaleX(0.8304);transform-origin:0 0">RP6818</span>
<span class="lb" style="left:461.60px;top:475.50px;font-size:18.5px;color:#cf6238;font-weight:bold;transform:scaleX(0.8974);transform-origin:0 0">PMU</span>
<span class="lb" style="left:537.55px;top:583.00px;font-size:18.5px;color:#cf6238;font-weight:bold;transform:scaleX(0.8538);transform-origin:0 0">CPU S5P6818</span>
<span class="lb" style="left:698.14px;top:500.00px;font-size:18.5px;color:#cf6238;font-weight:bold;transform:scaleX(0.8571);transform-origin:0 0">DDR3</span>
<span class="lb" style="left:686.35px;top:584.50px;font-size:18.5px;color:#cf6238;font-weight:bold;transform:scaleX(0.8550);transform-origin:0 0">G-sensor</span>
<span class="lb" style="left:630.64px;top:667.50px;font-size:18.5px;color:#cf6238;font-weight:bold;transform:scaleX(0.8618);transform-origin:0 0">User key</span>
<span class="lb" style="left:666.53px;top:792.90px;font-size:18.5px;color:#cf6238;font-weight:bold;transform:scaleX(0.7735);transform-origin:0 0">USB boot</span>
<span class="lb" style="left:741.11px;top:792.90px;font-size:18.5px;color:#cf6238;font-weight:bold;transform:scaleX(0.7914);transform-origin:0 0">SD boot</span>
<span class="lb" style="left:806.06px;top:793.20px;font-size:18.5px;color:#cf6238;font-weight:bold;transform:scaleX(0.8412);transform-origin:0 0">RV1</span>
<span class="lb" style="left:864.54px;top:793.20px;font-size:18.5px;color:#cf6238;font-weight:bold;transform:scaleX(0.8574);transform-origin:0 0">Power</span>
<span class="lb" style="left:581.93px;top:765.00px;font-size:16px;color:#cf6238;font-weight:bold;transform:scaleX(1.0682);transform-origin:0 0">Model</span>
<span class="lb" style="left:556.11px;top:781.00px;font-size:13px;color:#cf6238;font-weight:bold;transform:scaleX(0.8894);transform-origin:0 0">GPS+BT4.0+WiFi</span>
<span class="lb" style="left:198.70px;top:793.30px;font-size:18.5px;color:#cf6238;font-weight:bold;transform:scaleX(0.9049);transform-origin:0 0">4G Model</span>
<span class="lb" style="left:361.12px;top:793.30px;font-size:18.5px;color:#cf6238;font-weight:bold;transform:scaleX(0.8808);transform-origin:0 0">SIM Card</span>
<span class="lb" style="left:447.70px;top:793.30px;font-size:18.5px;color:#cf6238;font-weight:bold;transform:scaleX(0.8275);transform-origin:0 0">TF Card</span>
<svg style="position:absolute;left:566px;top:797px" width="76" height="16" viewBox="0 0 76 16"><g stroke="#cf6238" stroke-width="1.35" fill="none" stroke-linecap="round"><path d="M6 1.5 Q3 7 6 12.5"/><path d="M68 1.5 Q71 7 68 12.5"/><g transform="translate(12 1.5) scale(1.0)"><path d="M0 1H10M8 1V9.5L6.5 9M1.5 3.8H5.5V7.5H1.5Z"/></g><g transform="translate(23 1.5) scale(1.0)"><path d="M0 3.5H4M2 0.5V9.5L1 9M0 7.5L4 5.8M7 0L7.6 1.6M4.6 2.2H10M5.2 2.2Q5.3 7 4.2 10"/></g><g transform="translate(34 1.5) scale(1.0)"><path d="M1 0.6H9.5V3H1M1 0.6Q1.2 7 0.2 10M2.6 5H9.6M2.2 7.2H10M4.6 3.8V7.2M7.6 3.8V7.2M3.4 10L5.2 8.2M6.2 8L10 10"/></g><g transform="translate(45 1.5) scale(1.0)"><path d="M0 3H3.6M1.8 0.4V10M1.8 3.2L0 7M1.9 4L3.5 6M4.2 1.6H10M5.6 0.4V2.6M8.6 0.4V2.6M5 3.2H9.6V6.2H5ZM5 4.7H9.6M4.2 7.4H10M7.1 6.2Q6.6 9 4.4 10M7.2 7.6L10 10"/></g><g transform="translate(56 1.5) scale(1.0)"><path d="M0 4H3.6M1.8 1V9M0 9.6L3.8 8.4M4.6 3.5H9V6.2M4 6.2H10M6.8 0.5V6.2Q6.4 9 4.4 10M7.3 6.8L10 10"/></g></g></svg>
<div style="left:124.6px;top:180.0px;width:2.8px;height:47.0px;background:#d06338"></div>
<div style="left:208.6px;top:180.0px;width:2.8px;height:47.0px;background:#d06338"></div>
<div style="left:336.1px;top:180.0px;width:2.8px;height:47.0px;background:#d06338"></div>
<div style="left:434.1px;top:180.0px;width:2.8px;height:47.0px;background:#d06338"></div>
<div style="left:500.6px;top:180.0px;width:2.8px;height:47.0px;background:#d06338"></div>
<div style="left:535.1px;top:180.0px;width:2.8px;height:47.0px;background:#d06338"></div>
<div style="left:593.5px;top:178.6px;width:145.5px;height:2.8px;background:#d06338"></div>
<div style="left:593.6px;top:178.5px;width:2.8px;height:40.5px;background:#d06338"></div>
<div style="left:674.1px;top:178.5px;width:2.8px;height:40.5px;background:#d06338"></div>
<div style="left:736.1px;top:178.5px;width:2.8px;height:38.5px;background:#d06338"></div>
<div style="left:794.6px;top:180.0px;width:2.8px;height:37.0px;background:#d06338"></div>
<div style="left:864.6px;top:180.0px;width:2.8px;height:37.0px;background:#d06338"></div>
<div style="left:917.0px;top:274.1px;width:39.0px;height:2.8px;background:#d06338"></div>
<div style="left:917.0px;top:332.6px;width:19.0px;height:2.8px;background:#d06338"></div>
<div style="left:907.0px;top:438.1px;width:17.0px;height:2.8px;background:#d06338"></div>
<div style="left:907.0px;top:533.6px;width:17.0px;height:2.8px;background:#d06338"></div>
<div style="left:907.0px;top:657.1px;width:41.0px;height:2.8px;background:#d06338"></div>
<div style="left:908.0px;top:710.6px;width:34.0px;height:2.8px;background:#d06338"></div>
<div style="left:35.0px;top:311.6px;width:45.0px;height:2.8px;background:#d06338"></div>
<div style="left:68.4px;top:439.1px;width:21.6px;height:2.8px;background:#d06338"></div>
<div style="left:68.4px;top:517.6px;width:21.6px;height:2.8px;background:#d06338"></div>
<div style="left:76.8px;top:727.0px;width:23.2px;height:2.8px;background:#d06338"></div>
<div style="left:162.7px;top:540.0px;width:2.8px;height:67.0px;background:#d06338"></div>
<div style="left:280.6px;top:480.0px;width:2.8px;height:67.0px;background:#d06338"></div>
<div style="left:590.6px;top:400.0px;width:2.8px;height:44.0px;background:#d06338"></div>
<div style="left:564.8px;top:429.8px;width:53.9px;height:47.4px;border:2.4px solid #d06338;box-sizing:border-box"></div>
<div style="left:523.8px;top:466.3px;width:36.4px;height:35.4px;border:2.4px solid #d06338;box-sizing:border-box"></div>
<div style="left:559.8px;top:476.3px;width:62.4px;height:61.9px;border:2.4px solid #d06338;box-sizing:border-box"></div>
<div style="left:623.8px;top:466.3px;width:54.9px;height:80.9px;border:2.4px solid #d06338;box-sizing:border-box"></div>
<div style="left:497.0px;top:482.6px;width:30.0px;height:2.8px;background:#d06338"></div>
<div style="left:591.1px;top:515.0px;width:2.8px;height:69.0px;background:#d06338"></div>
<div style="left:676.0px;top:506.1px;width:22.0px;height:2.8px;background:#d06338"></div>
<div style="left:646.9px;top:591.0px;width:2.8px;height:19.0px;background:#d06338"></div>
<div style="left:646.8px;top:591.1px;width:37.2px;height:2.8px;background:#d06338"></div>
<div style="left:728.6px;top:650.0px;width:143.8px;height:73.6px;border:2.4px solid #d06338;box-sizing:border-box"></div>
<div style="left:699.0px;top:674.1px;width:32.0px;height:2.8px;background:#d06338"></div>
<div style="left:695.0px;top:741.1px;width:27.0px;height:2.8px;background:#d06338"></div>
<div style="left:695.0px;top:741.0px;width:2.8px;height:50.0px;background:#d06338"></div>
<div style="left:764.6px;top:750.0px;width:2.8px;height:41.0px;background:#d06338"></div>
<div style="left:813.6px;top:750.0px;width:2.8px;height:41.0px;background:#d06338"></div>
<div style="left:862.0px;top:741.1px;width:28.5px;height:2.8px;background:#d06338"></div>
<div style="left:887.9px;top:741.0px;width:2.8px;height:50.0px;background:#d06338"></div>
<div style="left:604.6px;top:725.0px;width:2.8px;height:37.0px;background:#d06338"></div>
<div style="left:465.6px;top:738.0px;width:2.8px;height:53.0px;background:#d06338"></div>
<div style="left:391.0px;top:726.0px;width:2.8px;height:65.0px;background:#d06338"></div>
<div style="left:236.8px;top:726.0px;width:2.8px;height:65.0px;background:#d06338"></div>
<div class="ci" style="left:113.8px;top:226.3px;width:24.4px;height:24.4px"><span style="font-size:17.5px">31</span></div>
<div class="ci" style="left:197.8px;top:226.8px;width:24.4px;height:24.4px"><span style="font-size:17.5px">30</span></div>
<div class="ci" style="left:325.3px;top:226.8px;width:24.4px;height:24.4px"><span style="font-size:17.5px">29</span></div>
<div class="ci" style="left:422.8px;top:226.8px;width:24.4px;height:24.4px"><span style="font-size:17.5px">28</span></div>
<div class="ci" style="left:489.8px;top:225.8px;width:24.4px;height:24.4px"><span style="font-size:17.5px">27</span></div>
<div class="ci" style="left:523.8px;top:225.8px;width:24.4px;height:24.4px"><span style="font-size:17.5px">26</span></div>
<div class="ci" style="left:583.8px;top:218.3px;width:24.4px;height:24.4px"><span style="font-size:17.5px">25</span></div>
<div class="ci" style="left:663.3px;top:218.3px;width:24.4px;height:24.4px"><span style="font-size:17.5px">25</span></div>
<div class="ci" style="left:725.3px;top:216.8px;width:24.4px;height:24.4px"><span style="font-size:17.5px">25</span></div>
<div class="ci" style="left:783.8px;top:216.8px;width:24.4px;height:24.4px"><span style="font-size:17.5px">24</span></div>
<div class="ci" style="left:853.8px;top:216.8px;width:24.4px;height:24.4px"><span style="font-size:17.5px">23</span></div>
<div class="ci" style="left:894.8px;top:262.8px;width:24.4px;height:24.4px"><span style="font-size:17.5px">22</span></div>
<div class="ci" style="left:894.8px;top:321.8px;width:24.4px;height:24.4px"><span style="font-size:17.5px">21</span></div>
<div class="ci" style="left:883.8px;top:427.3px;width:24.4px;height:24.4px"><span style="font-size:17.5px">20</span></div>
<div class="ci" style="left:883.8px;top:522.8px;width:24.4px;height:24.4px"><span style="font-size:17.5px">19</span></div>
<div class="ci" style="left:884.2px;top:646.8px;width:24.4px;height:24.4px"><span style="font-size:17.5px">18</span></div>
<div class="ci" style="left:885.6px;top:699.3px;width:24.4px;height:24.4px"><span style="font-size:17.5px">17</span></div>
<div class="ci" style="left:843.2px;top:730.3px;width:24.4px;height:24.4px"><span style="font-size:17.5px">16</span></div>
<div class="ci" style="left:802.4px;top:730.3px;width:24.4px;height:24.4px"><span style="font-size:17.5px">15</span></div>
<div class="ci" style="left:753.8px;top:730.3px;width:24.4px;height:24.4px"><span style="font-size:17.5px">14</span></div>
<div class="ci" style="left:719.3px;top:730.3px;width:24.4px;height:24.4px"><span style="font-size:17.5px">13</span></div>
<div class="ci" style="left:593.8px;top:705.3px;width:24.4px;height:24.4px"><span style="font-size:17.5px">12</span></div>
<div class="ci" style="left:454.8px;top:717.8px;width:24.4px;height:24.4px"><span style="font-size:17.5px">11</span></div>
<div class="ci" style="left:380.2px;top:705.8px;width:24.4px;height:24.4px"><span style="font-size:17.5px">10</span></div>
<div class="ci" style="left:226.0px;top:705.8px;width:24.4px;height:24.4px"><span style="font-size:20px;margin-top:-1px;transform:translate(-50%,-50%)">9</span></div>
<div class="ci" style="left:97.4px;top:716.2px;width:24.4px;height:24.4px"><span style="font-size:20px;margin-top:-1px;transform:translate(-50%,-50%)">8</span></div>
<div class="ci" style="left:86.8px;top:506.8px;width:24.4px;height:24.4px"><span style="font-size:20px;margin-top:-1px;transform:translate(-50%,-50%)">7</span></div>
<div class="ci" style="left:86.8px;top:428.8px;width:24.4px;height:24.4px"><span style="font-size:20px;margin-top:-1px;transform:translate(-50%,-50%)">6</span></div>
<div class="ci" style="left:77.4px;top:300.8px;width:24.4px;height:24.4px"><span style="font-size:20px;margin-top:-1px;transform:translate(-50%,-50%)">5</span></div>
<div class="ci" style="left:151.9px;top:520.4px;width:24.4px;height:24.4px"><span style="font-size:17.5px">32</span></div>
<div class="ci" style="left:269.8px;top:461.3px;width:24.4px;height:24.4px"><span style="font-size:17.5px">33</span></div>
<div class="ci" style="left:578.8px;top:441.8px;width:24.4px;height:24.4px"><span style="font-size:20px;margin-top:-1px;transform:translate(-50%,-50%)">3</span></div>
<div class="ci" style="left:528.8px;top:471.8px;width:24.4px;height:24.4px"><span style="font-size:20px;margin-top:-1px;transform:translate(-50%,-50%)">4</span></div>
<div class="ci" style="left:580.3px;top:495.3px;width:24.4px;height:24.4px"><span style="font-size:20px;margin-top:-1px;transform:translate(-50%,-50%)">1</span></div>
<div class="ci" style="left:642.8px;top:495.3px;width:24.4px;height:24.4px"><span style="font-size:20px;margin-top:-1px;transform:translate(-50%,-50%)">2</span></div>
<div class="ci" style="left:637.3px;top:604.8px;width:24.4px;height:24.4px"><span style="font-size:17.5px">35</span></div>
<div class="ci" style="left:803.0px;top:670.4px;width:24.4px;height:24.4px"><span style="font-size:17.5px">34</span></div>
</div></body></html>
